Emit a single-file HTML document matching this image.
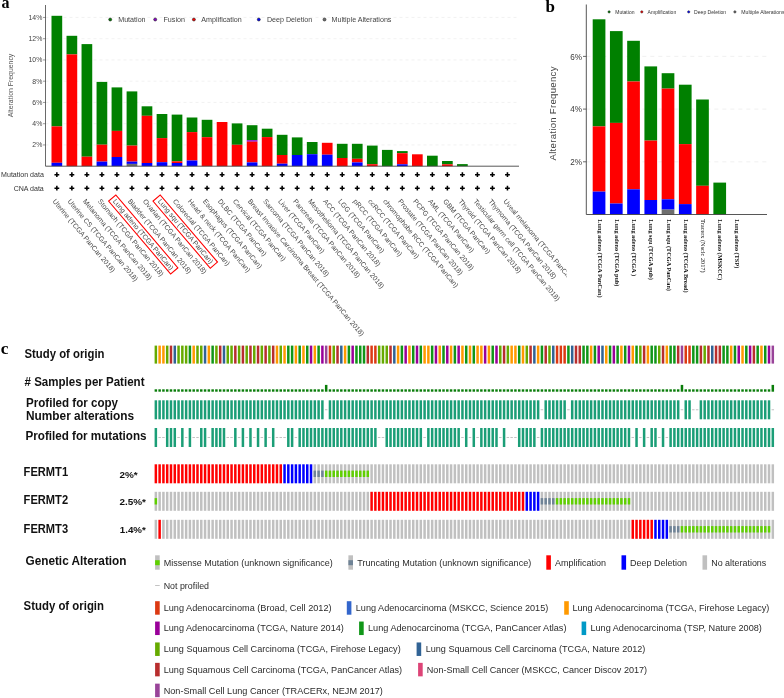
<!DOCTYPE html>
<html><head><meta charset="utf-8"><title>FERMT alteration figure</title>
<style>
html,body{margin:0;padding:0;background:#fff}
svg{display:block}
text{font-family:"Liberation Sans",Arial,sans-serif}
.s{font-family:"Liberation Serif","Times New Roman",serif}
</style></head><body>
<svg width="784" height="698" viewBox="0 0 784 698">
<rect width="784" height="698" fill="#fff"/>
<g id="panel-a">
<text class="s" x="1.6" y="8" font-size="16" font-weight="bold" fill="#000">a</text>
<line x1="45.5" x2="519" y1="144.95" y2="144.95" stroke="#efefef" stroke-width="0.8" stroke-dasharray="3 3"/>
<line x1="43.0" x2="45.5" y1="144.95" y2="144.95" stroke="#555" stroke-width="0.6"/>
<text x="42.3" y="147.35" font-size="6.9" text-anchor="end" fill="#444">2%</text>
<line x1="45.5" x2="519" y1="123.70" y2="123.70" stroke="#efefef" stroke-width="0.8" stroke-dasharray="3 3"/>
<line x1="43.0" x2="45.5" y1="123.70" y2="123.70" stroke="#555" stroke-width="0.6"/>
<text x="42.3" y="126.10" font-size="6.9" text-anchor="end" fill="#444">4%</text>
<line x1="45.5" x2="519" y1="102.45" y2="102.45" stroke="#efefef" stroke-width="0.8" stroke-dasharray="3 3"/>
<line x1="43.0" x2="45.5" y1="102.45" y2="102.45" stroke="#555" stroke-width="0.6"/>
<text x="42.3" y="104.85" font-size="6.9" text-anchor="end" fill="#444">6%</text>
<line x1="45.5" x2="519" y1="81.20" y2="81.20" stroke="#efefef" stroke-width="0.8" stroke-dasharray="3 3"/>
<line x1="43.0" x2="45.5" y1="81.20" y2="81.20" stroke="#555" stroke-width="0.6"/>
<text x="42.3" y="83.60" font-size="6.9" text-anchor="end" fill="#444">8%</text>
<line x1="45.5" x2="519" y1="59.95" y2="59.95" stroke="#efefef" stroke-width="0.8" stroke-dasharray="3 3"/>
<line x1="43.0" x2="45.5" y1="59.95" y2="59.95" stroke="#555" stroke-width="0.6"/>
<text x="42.3" y="62.35" font-size="6.9" text-anchor="end" fill="#444">10%</text>
<line x1="45.5" x2="519" y1="38.70" y2="38.70" stroke="#efefef" stroke-width="0.8" stroke-dasharray="3 3"/>
<line x1="43.0" x2="45.5" y1="38.70" y2="38.70" stroke="#555" stroke-width="0.6"/>
<text x="42.3" y="41.10" font-size="6.9" text-anchor="end" fill="#444">12%</text>
<line x1="45.5" x2="519" y1="17.45" y2="17.45" stroke="#efefef" stroke-width="0.8" stroke-dasharray="3 3"/>
<line x1="43.0" x2="45.5" y1="17.45" y2="17.45" stroke="#555" stroke-width="0.6"/>
<text x="42.3" y="19.85" font-size="6.9" text-anchor="end" fill="#444">14%</text>
<rect x="51.50" y="15.80" width="10.7" height="110.60" fill="#008000"/>
<rect x="51.50" y="126.40" width="10.7" height="36.40" fill="#ff0000"/>
<rect x="51.50" y="162.80" width="10.7" height="3.40" fill="#0000ff"/>
<rect x="66.52" y="35.80" width="10.7" height="18.60" fill="#008000"/>
<rect x="66.52" y="54.40" width="10.7" height="111.80" fill="#ff0000"/>
<rect x="81.54" y="44.10" width="10.7" height="112.60" fill="#008000"/>
<rect x="81.54" y="156.70" width="10.7" height="9.50" fill="#ff0000"/>
<rect x="96.56" y="81.90" width="10.7" height="62.80" fill="#008000"/>
<rect x="96.56" y="144.70" width="10.7" height="16.90" fill="#ff0000"/>
<rect x="96.56" y="161.60" width="10.7" height="4.60" fill="#0000ff"/>
<rect x="111.58" y="87.40" width="10.7" height="43.50" fill="#008000"/>
<rect x="111.58" y="130.90" width="10.7" height="26.10" fill="#ff0000"/>
<rect x="111.58" y="157.00" width="10.7" height="9.20" fill="#0000ff"/>
<rect x="126.60" y="91.40" width="10.7" height="54.20" fill="#008000"/>
<rect x="126.60" y="145.60" width="10.7" height="16.00" fill="#ff0000"/>
<rect x="126.60" y="161.60" width="10.7" height="2.30" fill="#0000ff"/>
<rect x="126.60" y="163.90" width="10.7" height="2.30" fill="#6e6e6e"/>
<rect x="141.62" y="106.30" width="10.7" height="9.50" fill="#008000"/>
<rect x="141.62" y="115.80" width="10.7" height="47.20" fill="#ff0000"/>
<rect x="141.62" y="163.00" width="10.7" height="3.20" fill="#0000ff"/>
<rect x="156.64" y="114.00" width="10.7" height="24.10" fill="#008000"/>
<rect x="156.64" y="138.10" width="10.7" height="24.10" fill="#ff0000"/>
<rect x="156.64" y="162.20" width="10.7" height="4.00" fill="#0000ff"/>
<rect x="171.66" y="114.60" width="10.7" height="46.70" fill="#008000"/>
<rect x="171.66" y="161.30" width="10.7" height="1.70" fill="#ff0000"/>
<rect x="171.66" y="163.00" width="10.7" height="3.20" fill="#0000ff"/>
<rect x="186.68" y="117.50" width="10.7" height="14.60" fill="#008000"/>
<rect x="186.68" y="132.10" width="10.7" height="28.40" fill="#ff0000"/>
<rect x="186.68" y="160.50" width="10.7" height="5.70" fill="#0000ff"/>
<rect x="201.70" y="119.80" width="10.7" height="17.40" fill="#008000"/>
<rect x="201.70" y="137.20" width="10.7" height="29.00" fill="#ff0000"/>
<rect x="216.72" y="122.00" width="10.7" height="44.20" fill="#ff0000"/>
<rect x="231.74" y="123.40" width="10.7" height="21.40" fill="#008000"/>
<rect x="231.74" y="144.80" width="10.7" height="21.40" fill="#ff0000"/>
<rect x="246.76" y="125.20" width="10.7" height="15.00" fill="#008000"/>
<rect x="246.76" y="140.20" width="10.7" height="1.50" fill="#8b00c9"/>
<rect x="246.76" y="141.70" width="10.7" height="20.70" fill="#ff0000"/>
<rect x="246.76" y="162.40" width="10.7" height="3.80" fill="#0000ff"/>
<rect x="261.78" y="128.70" width="10.7" height="8.40" fill="#008000"/>
<rect x="261.78" y="137.10" width="10.7" height="29.10" fill="#ff0000"/>
<rect x="276.80" y="134.80" width="10.7" height="20.20" fill="#008000"/>
<rect x="276.80" y="155.00" width="10.7" height="8.70" fill="#ff0000"/>
<rect x="276.80" y="163.70" width="10.7" height="2.50" fill="#0000ff"/>
<rect x="291.82" y="137.40" width="10.7" height="17.60" fill="#008000"/>
<rect x="291.82" y="155.00" width="10.7" height="11.20" fill="#0000ff"/>
<rect x="306.84" y="142.00" width="10.7" height="12.20" fill="#008000"/>
<rect x="306.84" y="154.20" width="10.7" height="12.00" fill="#0000ff"/>
<rect x="321.86" y="142.80" width="10.7" height="11.90" fill="#ff0000"/>
<rect x="321.86" y="154.70" width="10.7" height="11.50" fill="#0000ff"/>
<rect x="336.88" y="143.80" width="10.7" height="14.20" fill="#008000"/>
<rect x="336.88" y="158.00" width="10.7" height="8.20" fill="#ff0000"/>
<rect x="351.90" y="143.80" width="10.7" height="15.00" fill="#008000"/>
<rect x="351.90" y="158.80" width="10.7" height="3.60" fill="#ff0000"/>
<rect x="351.90" y="162.40" width="10.7" height="3.80" fill="#0000ff"/>
<rect x="366.92" y="145.60" width="10.7" height="18.60" fill="#008000"/>
<rect x="366.92" y="164.20" width="10.7" height="2.00" fill="#ff0000"/>
<rect x="381.94" y="149.90" width="10.7" height="16.30" fill="#008000"/>
<rect x="396.96" y="151.10" width="10.7" height="2.10" fill="#008000"/>
<rect x="396.96" y="153.20" width="10.7" height="11.10" fill="#ff0000"/>
<rect x="396.96" y="164.30" width="10.7" height="1.90" fill="#0000ff"/>
<rect x="411.98" y="154.30" width="10.7" height="11.90" fill="#ff0000"/>
<rect x="427.00" y="155.70" width="10.7" height="10.50" fill="#008000"/>
<rect x="442.02" y="161.00" width="10.7" height="3.30" fill="#008000"/>
<rect x="442.02" y="164.30" width="10.7" height="1.90" fill="#ff0000"/>
<rect x="457.04" y="164.10" width="10.7" height="2.10" fill="#008000"/>
<line x1="45.5" x2="45.5" y1="5" y2="166.2" stroke="#444" stroke-width="0.8"/>
<line x1="45.5" x2="519" y1="166.2" y2="166.2" stroke="#444" stroke-width="0.9"/>
<text transform="translate(13.2,85.5) rotate(-90)" font-size="6.9" text-anchor="middle" fill="#555">Alteration Frequency</text>
<circle cx="110.2" cy="19.5" r="1.5" fill="#008000" stroke="#222" stroke-width="0.6"/>
<text x="118.2" y="22" font-size="7.15" fill="#444">Mutation</text>
<circle cx="155.2" cy="19.5" r="1.5" fill="#8b00c9" stroke="#222" stroke-width="0.6"/>
<text x="163.5" y="22" font-size="7.15" fill="#444">Fusion</text>
<circle cx="193.9" cy="19.5" r="1.5" fill="#ff0000" stroke="#222" stroke-width="0.6"/>
<text x="201.3" y="22" font-size="7.15" fill="#444">Amplification</text>
<circle cx="258.8" cy="19.5" r="1.5" fill="#0000ff" stroke="#222" stroke-width="0.6"/>
<text x="266.9" y="22" font-size="7.15" fill="#444">Deep Deletion</text>
<circle cx="324.5" cy="19.5" r="1.5" fill="#6e6e6e" stroke="#222" stroke-width="0.6"/>
<text x="331.5" y="22" font-size="7.15" fill="#444">Multiple Alterations</text>
<text x="43.8" y="177.2" font-size="7.05" text-anchor="end" fill="#333">Mutation data</text>
<text x="43.8" y="190.7" font-size="7.05" text-anchor="end" fill="#333">CNA data</text>
<path d="M54.45 174.7H59.25M56.85 172.29999999999998V177.1" stroke="#000" stroke-width="1.55" fill="none"/>
<path d="M54.45 188.2H59.25M56.85 185.79999999999998V190.6" stroke="#000" stroke-width="1.55" fill="none"/>
<path d="M69.47 174.7H74.27M71.87 172.29999999999998V177.1" stroke="#000" stroke-width="1.55" fill="none"/>
<path d="M69.47 188.2H74.27M71.87 185.79999999999998V190.6" stroke="#000" stroke-width="1.55" fill="none"/>
<path d="M84.49 174.7H89.29M86.89 172.29999999999998V177.1" stroke="#000" stroke-width="1.55" fill="none"/>
<path d="M84.49 188.2H89.29M86.89 185.79999999999998V190.6" stroke="#000" stroke-width="1.55" fill="none"/>
<path d="M99.51 174.7H104.31M101.91 172.29999999999998V177.1" stroke="#000" stroke-width="1.55" fill="none"/>
<path d="M99.51 188.2H104.31M101.91 185.79999999999998V190.6" stroke="#000" stroke-width="1.55" fill="none"/>
<path d="M114.53 174.7H119.33M116.93 172.29999999999998V177.1" stroke="#000" stroke-width="1.55" fill="none"/>
<path d="M114.53 188.2H119.33M116.93 185.79999999999998V190.6" stroke="#000" stroke-width="1.55" fill="none"/>
<path d="M129.55 174.7H134.35M131.95 172.29999999999998V177.1" stroke="#000" stroke-width="1.55" fill="none"/>
<path d="M129.55 188.2H134.35M131.95 185.79999999999998V190.6" stroke="#000" stroke-width="1.55" fill="none"/>
<path d="M144.57 174.7H149.37M146.97 172.29999999999998V177.1" stroke="#000" stroke-width="1.55" fill="none"/>
<path d="M144.57 188.2H149.37M146.97 185.79999999999998V190.6" stroke="#000" stroke-width="1.55" fill="none"/>
<path d="M159.59 174.7H164.39M161.99 172.29999999999998V177.1" stroke="#000" stroke-width="1.55" fill="none"/>
<path d="M159.59 188.2H164.39M161.99 185.79999999999998V190.6" stroke="#000" stroke-width="1.55" fill="none"/>
<path d="M174.61 174.7H179.41M177.01 172.29999999999998V177.1" stroke="#000" stroke-width="1.55" fill="none"/>
<path d="M174.61 188.2H179.41M177.01 185.79999999999998V190.6" stroke="#000" stroke-width="1.55" fill="none"/>
<path d="M189.63 174.7H194.43M192.03 172.29999999999998V177.1" stroke="#000" stroke-width="1.55" fill="none"/>
<path d="M189.63 188.2H194.43M192.03 185.79999999999998V190.6" stroke="#000" stroke-width="1.55" fill="none"/>
<path d="M204.65 174.7H209.45M207.05 172.29999999999998V177.1" stroke="#000" stroke-width="1.55" fill="none"/>
<path d="M204.65 188.2H209.45M207.05 185.79999999999998V190.6" stroke="#000" stroke-width="1.55" fill="none"/>
<path d="M219.67 174.7H224.47M222.07 172.29999999999998V177.1" stroke="#000" stroke-width="1.55" fill="none"/>
<path d="M219.67 188.2H224.47M222.07 185.79999999999998V190.6" stroke="#000" stroke-width="1.55" fill="none"/>
<path d="M234.69 174.7H239.49M237.09 172.29999999999998V177.1" stroke="#000" stroke-width="1.55" fill="none"/>
<path d="M234.69 188.2H239.49M237.09 185.79999999999998V190.6" stroke="#000" stroke-width="1.55" fill="none"/>
<path d="M249.71 174.7H254.51M252.11 172.29999999999998V177.1" stroke="#000" stroke-width="1.55" fill="none"/>
<path d="M249.71 188.2H254.51M252.11 185.79999999999998V190.6" stroke="#000" stroke-width="1.55" fill="none"/>
<path d="M264.73 174.7H269.53M267.13 172.29999999999998V177.1" stroke="#000" stroke-width="1.55" fill="none"/>
<path d="M264.73 188.2H269.53M267.13 185.79999999999998V190.6" stroke="#000" stroke-width="1.55" fill="none"/>
<path d="M279.75 174.7H284.55M282.15 172.29999999999998V177.1" stroke="#000" stroke-width="1.55" fill="none"/>
<path d="M279.75 188.2H284.55M282.15 185.79999999999998V190.6" stroke="#000" stroke-width="1.55" fill="none"/>
<path d="M294.77 174.7H299.57M297.17 172.29999999999998V177.1" stroke="#000" stroke-width="1.55" fill="none"/>
<path d="M294.77 188.2H299.57M297.17 185.79999999999998V190.6" stroke="#000" stroke-width="1.55" fill="none"/>
<path d="M309.79 174.7H314.59M312.19 172.29999999999998V177.1" stroke="#000" stroke-width="1.55" fill="none"/>
<path d="M309.79 188.2H314.59M312.19 185.79999999999998V190.6" stroke="#000" stroke-width="1.55" fill="none"/>
<path d="M324.81 174.7H329.61M327.21 172.29999999999998V177.1" stroke="#000" stroke-width="1.55" fill="none"/>
<path d="M324.81 188.2H329.61M327.21 185.79999999999998V190.6" stroke="#000" stroke-width="1.55" fill="none"/>
<path d="M339.83 174.7H344.63M342.23 172.29999999999998V177.1" stroke="#000" stroke-width="1.55" fill="none"/>
<path d="M339.83 188.2H344.63M342.23 185.79999999999998V190.6" stroke="#000" stroke-width="1.55" fill="none"/>
<path d="M354.85 174.7H359.65M357.25 172.29999999999998V177.1" stroke="#000" stroke-width="1.55" fill="none"/>
<path d="M354.85 188.2H359.65M357.25 185.79999999999998V190.6" stroke="#000" stroke-width="1.55" fill="none"/>
<path d="M369.87 174.7H374.67M372.27 172.29999999999998V177.1" stroke="#000" stroke-width="1.55" fill="none"/>
<path d="M369.87 188.2H374.67M372.27 185.79999999999998V190.6" stroke="#000" stroke-width="1.55" fill="none"/>
<path d="M384.89 174.7H389.69M387.29 172.29999999999998V177.1" stroke="#000" stroke-width="1.55" fill="none"/>
<path d="M384.89 188.2H389.69M387.29 185.79999999999998V190.6" stroke="#000" stroke-width="1.55" fill="none"/>
<path d="M399.91 174.7H404.71M402.31 172.29999999999998V177.1" stroke="#000" stroke-width="1.55" fill="none"/>
<path d="M399.91 188.2H404.71M402.31 185.79999999999998V190.6" stroke="#000" stroke-width="1.55" fill="none"/>
<path d="M414.93 174.7H419.73M417.33 172.29999999999998V177.1" stroke="#000" stroke-width="1.55" fill="none"/>
<path d="M414.93 188.2H419.73M417.33 185.79999999999998V190.6" stroke="#000" stroke-width="1.55" fill="none"/>
<path d="M429.95 174.7H434.75M432.35 172.29999999999998V177.1" stroke="#000" stroke-width="1.55" fill="none"/>
<path d="M429.95 188.2H434.75M432.35 185.79999999999998V190.6" stroke="#000" stroke-width="1.55" fill="none"/>
<path d="M444.97 174.7H449.77M447.37 172.29999999999998V177.1" stroke="#000" stroke-width="1.55" fill="none"/>
<path d="M444.97 188.2H449.77M447.37 185.79999999999998V190.6" stroke="#000" stroke-width="1.55" fill="none"/>
<path d="M459.99 174.7H464.79M462.39 172.29999999999998V177.1" stroke="#000" stroke-width="1.55" fill="none"/>
<path d="M459.99 188.2H464.79M462.39 185.79999999999998V190.6" stroke="#000" stroke-width="1.55" fill="none"/>
<path d="M475.01 174.7H479.81M477.41 172.29999999999998V177.1" stroke="#000" stroke-width="1.55" fill="none"/>
<path d="M475.01 188.2H479.81M477.41 185.79999999999998V190.6" stroke="#000" stroke-width="1.55" fill="none"/>
<path d="M490.03 174.7H494.83M492.43 172.29999999999998V177.1" stroke="#000" stroke-width="1.55" fill="none"/>
<path d="M490.03 188.2H494.83M492.43 185.79999999999998V190.6" stroke="#000" stroke-width="1.55" fill="none"/>
<path d="M505.05 174.7H509.85M507.45 172.29999999999998V177.1" stroke="#000" stroke-width="1.55" fill="none"/>
<path d="M505.05 188.2H509.85M507.45 185.79999999999998V190.6" stroke="#000" stroke-width="1.55" fill="none"/>
<clipPath id="clipa"><rect x="0" y="190" width="566.5" height="160"/></clipPath>
<g clip-path="url(#clipa)">
<text transform="translate(52.35,201.6) rotate(50)" font-size="7.0" fill="#4a4a4a">Uterine (TCGA PanCan 2018)</text>
<text transform="translate(67.37,201.6) rotate(50)" font-size="7.0" fill="#4a4a4a">Uterine CS (TCGA PanCan 2018)</text>
<text transform="translate(82.39,201.6) rotate(50)" font-size="7.0" fill="#4a4a4a">Melanoma (TCGA PanCan 2018)</text>
<text transform="translate(97.41,201.6) rotate(50)" font-size="7.0" fill="#4a4a4a">Stomach (TCGA PanCan 2018)</text>
<text transform="translate(112.43,201.6) rotate(50)" font-size="7.0" fill="#4a4a4a">Lung adeno (TCGA PanCan)</text>
<rect transform="translate(112.43,201.6) rotate(49.6)" x="-2.85" y="-6.9" width="95.7" height="9.5" fill="none" stroke="#ff0000" stroke-width="1.1"/>
<text transform="translate(127.45,201.6) rotate(50)" font-size="7.0" fill="#4a4a4a">Bladder (TCGA PanCan 2018)</text>
<text transform="translate(142.47,201.6) rotate(50)" font-size="7.0" fill="#4a4a4a">Ovarian (TCGA PanCan 2018)</text>
<text transform="translate(157.49,201.6) rotate(50)" font-size="7.0" fill="#4a4a4a">Lung squ (TCGA PanCan)</text>
<rect transform="translate(157.49,201.6) rotate(49.5)" x="-3.3" y="-6.4" width="88.2" height="9.5" fill="none" stroke="#ff0000" stroke-width="1.1"/>
<text transform="translate(172.51,201.6) rotate(50)" font-size="7.0" fill="#4a4a4a">Colorectal (TCGA PanCan)</text>
<text transform="translate(187.53,201.6) rotate(50)" font-size="7.0" fill="#4a4a4a">Head &amp; neck (TCGA PanCan)</text>
<text transform="translate(202.55,201.6) rotate(50)" font-size="7.0" fill="#4a4a4a">Esophagus (TCGA PanCan)</text>
<text transform="translate(217.57,201.6) rotate(50)" font-size="7.0" fill="#4a4a4a">DLBC (TCGA PanCan)</text>
<text transform="translate(232.59,201.6) rotate(50)" font-size="7.0" fill="#4a4a4a">Cervical (TCGA PanCan)</text>
<text transform="translate(247.61,201.6) rotate(50)" font-size="7.0" fill="#4a4a4a">Breast Invasive Carcinoma Breast (TCGA PanCan 2018)</text>
<text transform="translate(262.63,201.6) rotate(50)" font-size="7.0" fill="#4a4a4a">Sarcoma (TCGA PanCan 2018)</text>
<text transform="translate(277.65,201.6) rotate(50)" font-size="7.0" fill="#4a4a4a">Liver (TCGA PanCan)</text>
<text transform="translate(292.67,201.6) rotate(50)" font-size="7.0" fill="#4a4a4a">Pancreas (TCGA PanCan 2018)</text>
<text transform="translate(307.69,201.6) rotate(50)" font-size="7.0" fill="#4a4a4a">Mesothelioma (TCGA PanCan 2018)</text>
<text transform="translate(322.71,201.6) rotate(50)" font-size="7.0" fill="#4a4a4a">ACC (TCGA PanCan 2018)</text>
<text transform="translate(337.73,201.6) rotate(50)" font-size="7.0" fill="#4a4a4a">LGG (TCGA PanCan)</text>
<text transform="translate(352.75,201.6) rotate(50)" font-size="7.0" fill="#4a4a4a">pRCC (TCGA PanCan)</text>
<text transform="translate(367.77,201.6) rotate(50)" font-size="7.0" fill="#4a4a4a">ccRCC (TCGA PanCan)</text>
<text transform="translate(382.79,201.6) rotate(50)" font-size="7.0" fill="#4a4a4a">chromophobe RCC (TCGA PanCan)</text>
<text transform="translate(397.81,201.6) rotate(50)" font-size="7.0" fill="#4a4a4a">Prostate (TCGA PanCan 2018)</text>
<text transform="translate(412.83,201.6) rotate(50)" font-size="7.0" fill="#4a4a4a">PCPG (TCGA PanCan 2018)</text>
<text transform="translate(427.85,201.6) rotate(50)" font-size="7.0" fill="#4a4a4a">AML (TCGA PanCan)</text>
<text transform="translate(442.87,201.6) rotate(50)" font-size="7.0" fill="#4a4a4a">GBM (TCGA PanCan)</text>
<text transform="translate(457.89,201.6) rotate(50)" font-size="7.0" fill="#4a4a4a">Thyroid (TCGA PanCan 2018)</text>
<text transform="translate(472.91,201.6) rotate(50)" font-size="7.0" fill="#4a4a4a">Testicular germ cell (TCGA PanCan 2018)</text>
<text transform="translate(487.93,201.6) rotate(50)" font-size="7.0" fill="#4a4a4a">Thymoma (TCGA PanCan 2018)</text>
<text transform="translate(502.95,201.6) rotate(50)" font-size="7.0" fill="#4a4a4a">Uveal melanoma (TCGA PanCan 2018)</text>
</g>
</g>
<g id="panel-b">
<text class="s" x="545.4" y="12.3" font-size="17" font-weight="bold" fill="#000">b</text>
<line x1="586.3" x2="767" y1="161.80" y2="161.80" stroke="#ececec" stroke-width="0.8" stroke-dasharray="4 4"/>
<text x="570.2" y="165.00" font-size="9" fill="#3a3a3a" textLength="11.8" lengthAdjust="spacingAndGlyphs">2%</text>
<line x1="583" x2="586.3" y1="161.80" y2="161.80" stroke="#444" stroke-width="0.8"/>
<line x1="586.3" x2="767" y1="109.10" y2="109.10" stroke="#ececec" stroke-width="0.8" stroke-dasharray="4 4"/>
<text x="570.2" y="112.30" font-size="9" fill="#3a3a3a" textLength="11.8" lengthAdjust="spacingAndGlyphs">4%</text>
<line x1="583" x2="586.3" y1="109.10" y2="109.10" stroke="#444" stroke-width="0.8"/>
<line x1="586.3" x2="767" y1="56.40" y2="56.40" stroke="#ececec" stroke-width="0.8" stroke-dasharray="4 4"/>
<text x="570.2" y="59.60" font-size="9" fill="#3a3a3a" textLength="11.8" lengthAdjust="spacingAndGlyphs">6%</text>
<line x1="583" x2="586.3" y1="56.40" y2="56.40" stroke="#444" stroke-width="0.8"/>
<rect x="592.70" y="19.30" width="12.7" height="107.10" fill="#008000"/>
<rect x="592.70" y="126.40" width="12.7" height="65.20" fill="#ff0000"/>
<rect x="592.70" y="191.60" width="12.7" height="22.90" fill="#0000ff"/>
<rect x="609.94" y="31.10" width="12.7" height="91.80" fill="#008000"/>
<rect x="609.94" y="122.90" width="12.7" height="80.60" fill="#ff0000"/>
<rect x="609.94" y="203.50" width="12.7" height="11.00" fill="#0000ff"/>
<rect x="627.18" y="40.80" width="12.7" height="40.70" fill="#008000"/>
<rect x="627.18" y="81.50" width="12.7" height="107.80" fill="#ff0000"/>
<rect x="627.18" y="189.30" width="12.7" height="25.20" fill="#0000ff"/>
<rect x="644.42" y="66.40" width="12.7" height="74.20" fill="#008000"/>
<rect x="644.42" y="140.60" width="12.7" height="59.40" fill="#ff0000"/>
<rect x="644.42" y="200.00" width="12.7" height="14.50" fill="#0000ff"/>
<rect x="661.66" y="73.20" width="12.7" height="15.40" fill="#008000"/>
<rect x="661.66" y="88.60" width="12.7" height="110.70" fill="#ff0000"/>
<rect x="661.66" y="199.30" width="12.7" height="10.30" fill="#0000ff"/>
<rect x="661.66" y="209.60" width="12.7" height="4.90" fill="#6e6e6e"/>
<rect x="678.90" y="84.70" width="12.7" height="59.40" fill="#008000"/>
<rect x="678.90" y="144.10" width="12.7" height="60.00" fill="#ff0000"/>
<rect x="678.90" y="204.10" width="12.7" height="10.40" fill="#0000ff"/>
<rect x="696.14" y="99.50" width="12.7" height="86.30" fill="#008000"/>
<rect x="696.14" y="185.80" width="12.7" height="28.70" fill="#ff0000"/>
<rect x="713.38" y="182.60" width="12.7" height="31.90" fill="#008000"/>
<line x1="586.3" x2="586.3" y1="4.5" y2="214.5" stroke="#444" stroke-width="0.9"/>
<line x1="586.3" x2="767" y1="214.5" y2="214.5" stroke="#444" stroke-width="0.9"/>
<text transform="translate(555.6,113.5) rotate(-90)" font-size="9.6" text-anchor="middle" fill="#444" textLength="94" lengthAdjust="spacing">Alteration Frequency</text>
<circle cx="609.1" cy="11.9" r="1.15" fill="#008000" stroke="#222" stroke-width="0.5"/>
<text x="615.2" y="13.7" font-size="5.2" fill="#333" textLength="19.3" lengthAdjust="spacingAndGlyphs">Mutation</text>
<circle cx="641.8" cy="11.9" r="1.15" fill="#ff0000" stroke="#222" stroke-width="0.5"/>
<text x="647.6" y="13.7" font-size="5.2" fill="#333" textLength="28.6" lengthAdjust="spacingAndGlyphs">Amplification</text>
<circle cx="688.7" cy="11.9" r="1.15" fill="#0000ff" stroke="#222" stroke-width="0.5"/>
<text x="694.1" y="13.7" font-size="5.2" fill="#333" textLength="32.1" lengthAdjust="spacingAndGlyphs">Deep Deletion</text>
<circle cx="734.9" cy="11.9" r="1.15" fill="#6e6e6e" stroke="#222" stroke-width="0.5"/>
<text x="741.3" y="13.7" font-size="5.2" fill="#333" textLength="43.2" lengthAdjust="spacingAndGlyphs">Multiple Alterations</text>
<text class="s" transform="translate(597.55,219.3) rotate(90) scale(0.905,1)" font-size="6.9" font-weight="bold" fill="#111">Lung adeno (TCGA PanCan)</text>
<text class="s" transform="translate(614.79,219.3) rotate(90) scale(0.905,1)" font-size="6.9" font-weight="bold" fill="#111">Lung adeno (TCGA pub)</text>
<text class="s" transform="translate(632.03,219.3) rotate(90) scale(0.905,1)" font-size="6.9" font-weight="bold" fill="#111">Lung adeno (TCGA )</text>
<text class="s" transform="translate(649.27,219.3) rotate(90) scale(0.905,1)" font-size="6.9" font-weight="bold" fill="#111">Lung squ (TCGA pub)</text>
<text class="s" transform="translate(666.51,219.3) rotate(90) scale(0.905,1)" font-size="6.9" font-weight="bold" fill="#111">Lung squ (TCGA PanCan)</text>
<text class="s" transform="translate(683.75,219.3) rotate(90) scale(0.905,1)" font-size="6.9" font-weight="bold" fill="#111">Lung adeno (TCGA Broad)</text>
<text class="s" transform="translate(700.99,219.3) rotate(90) scale(0.905,1)" font-size="6.9" font-weight="normal" fill="#111">Tracerx (Nsclc 2017)</text>
<text class="s" transform="translate(718.23,219.3) rotate(90) scale(0.905,1)" font-size="6.9" font-weight="bold" fill="#111">Lung adeno (MSKCC)</text>
<text class="s" transform="translate(735.47,219.3) rotate(90) scale(0.905,1)" font-size="6.9" font-weight="bold" fill="#111">Lung adeno (TSP)</text>
</g>
<g id="panel-c">
<text class="s" transform="translate(0.8,353.8) scale(1.08,1)" font-size="16" font-weight="bold" fill="#000">c</text>
<rect x="154.60" y="345.6" width="2.5" height="18" fill="#66aa00"/>
<rect x="158.38" y="345.6" width="2.5" height="18" fill="#ff9900"/>
<rect x="162.17" y="345.6" width="2.5" height="18" fill="#ff9900"/>
<rect x="165.95" y="345.6" width="2.5" height="18" fill="#66aa00"/>
<rect x="169.74" y="345.6" width="2.5" height="18" fill="#b82e2e"/>
<rect x="173.53" y="345.6" width="2.5" height="18" fill="#316395"/>
<rect x="177.31" y="345.6" width="2.5" height="18" fill="#66aa00"/>
<rect x="181.09" y="345.6" width="2.5" height="18" fill="#66aa00"/>
<rect x="184.88" y="345.6" width="2.5" height="18" fill="#66aa00"/>
<rect x="188.66" y="345.6" width="2.5" height="18" fill="#109618"/>
<rect x="192.45" y="345.6" width="2.5" height="18" fill="#ff9900"/>
<rect x="196.24" y="345.6" width="2.5" height="18" fill="#66aa00"/>
<rect x="200.02" y="345.6" width="2.5" height="18" fill="#66aa00"/>
<rect x="203.81" y="345.6" width="2.5" height="18" fill="#316395"/>
<rect x="207.59" y="345.6" width="2.5" height="18" fill="#ff9900"/>
<rect x="211.38" y="345.6" width="2.5" height="18" fill="#109618"/>
<rect x="215.16" y="345.6" width="2.5" height="18" fill="#66aa00"/>
<rect x="218.94" y="345.6" width="2.5" height="18" fill="#b82e2e"/>
<rect x="222.73" y="345.6" width="2.5" height="18" fill="#316395"/>
<rect x="226.51" y="345.6" width="2.5" height="18" fill="#66aa00"/>
<rect x="230.30" y="345.6" width="2.5" height="18" fill="#66aa00"/>
<rect x="234.08" y="345.6" width="2.5" height="18" fill="#b82e2e"/>
<rect x="237.87" y="345.6" width="2.5" height="18" fill="#66aa00"/>
<rect x="241.66" y="345.6" width="2.5" height="18" fill="#b82e2e"/>
<rect x="245.44" y="345.6" width="2.5" height="18" fill="#66aa00"/>
<rect x="249.22" y="345.6" width="2.5" height="18" fill="#b82e2e"/>
<rect x="253.01" y="345.6" width="2.5" height="18" fill="#66aa00"/>
<rect x="256.80" y="345.6" width="2.5" height="18" fill="#b82e2e"/>
<rect x="260.58" y="345.6" width="2.5" height="18" fill="#66aa00"/>
<rect x="264.37" y="345.6" width="2.5" height="18" fill="#b82e2e"/>
<rect x="268.15" y="345.6" width="2.5" height="18" fill="#66aa00"/>
<rect x="271.94" y="345.6" width="2.5" height="18" fill="#b82e2e"/>
<rect x="275.72" y="345.6" width="2.5" height="18" fill="#ff9900"/>
<rect x="279.50" y="345.6" width="2.5" height="18" fill="#66aa00"/>
<rect x="283.29" y="345.6" width="2.5" height="18" fill="#ff9900"/>
<rect x="287.07" y="345.6" width="2.5" height="18" fill="#109618"/>
<rect x="290.86" y="345.6" width="2.5" height="18" fill="#109618"/>
<rect x="294.64" y="345.6" width="2.5" height="18" fill="#ff9900"/>
<rect x="298.43" y="345.6" width="2.5" height="18" fill="#109618"/>
<rect x="302.22" y="345.6" width="2.5" height="18" fill="#ff9900"/>
<rect x="306.00" y="345.6" width="2.5" height="18" fill="#109618"/>
<rect x="309.78" y="345.6" width="2.5" height="18" fill="#990099"/>
<rect x="313.57" y="345.6" width="2.5" height="18" fill="#ff9900"/>
<rect x="317.36" y="345.6" width="2.5" height="18" fill="#109618"/>
<rect x="321.14" y="345.6" width="2.5" height="18" fill="#990099"/>
<rect x="324.93" y="345.6" width="2.5" height="18" fill="#994499"/>
<rect x="328.71" y="345.6" width="2.5" height="18" fill="#dc3912"/>
<rect x="332.50" y="345.6" width="2.5" height="18" fill="#66aa00"/>
<rect x="336.28" y="345.6" width="2.5" height="18" fill="#b82e2e"/>
<rect x="340.06" y="345.6" width="2.5" height="18" fill="#316395"/>
<rect x="343.85" y="345.6" width="2.5" height="18" fill="#ff9900"/>
<rect x="347.63" y="345.6" width="2.5" height="18" fill="#109618"/>
<rect x="351.42" y="345.6" width="2.5" height="18" fill="#990099"/>
<rect x="355.21" y="345.6" width="2.5" height="18" fill="#109618"/>
<rect x="358.99" y="345.6" width="2.5" height="18" fill="#109618"/>
<rect x="362.77" y="345.6" width="2.5" height="18" fill="#109618"/>
<rect x="366.56" y="345.6" width="2.5" height="18" fill="#b82e2e"/>
<rect x="370.35" y="345.6" width="2.5" height="18" fill="#dc3912"/>
<rect x="374.13" y="345.6" width="2.5" height="18" fill="#dc3912"/>
<rect x="377.91" y="345.6" width="2.5" height="18" fill="#66aa00"/>
<rect x="381.70" y="345.6" width="2.5" height="18" fill="#66aa00"/>
<rect x="385.49" y="345.6" width="2.5" height="18" fill="#66aa00"/>
<rect x="389.27" y="345.6" width="2.5" height="18" fill="#b82e2e"/>
<rect x="393.06" y="345.6" width="2.5" height="18" fill="#316395"/>
<rect x="396.84" y="345.6" width="2.5" height="18" fill="#ff9900"/>
<rect x="400.62" y="345.6" width="2.5" height="18" fill="#109618"/>
<rect x="404.41" y="345.6" width="2.5" height="18" fill="#990099"/>
<rect x="408.19" y="345.6" width="2.5" height="18" fill="#ff9900"/>
<rect x="411.98" y="345.6" width="2.5" height="18" fill="#109618"/>
<rect x="415.76" y="345.6" width="2.5" height="18" fill="#990099"/>
<rect x="419.55" y="345.6" width="2.5" height="18" fill="#109618"/>
<rect x="423.34" y="345.6" width="2.5" height="18" fill="#ff9900"/>
<rect x="427.12" y="345.6" width="2.5" height="18" fill="#ff9900"/>
<rect x="430.90" y="345.6" width="2.5" height="18" fill="#109618"/>
<rect x="434.69" y="345.6" width="2.5" height="18" fill="#990099"/>
<rect x="438.48" y="345.6" width="2.5" height="18" fill="#ff9900"/>
<rect x="442.26" y="345.6" width="2.5" height="18" fill="#109618"/>
<rect x="446.04" y="345.6" width="2.5" height="18" fill="#990099"/>
<rect x="449.83" y="345.6" width="2.5" height="18" fill="#ff9900"/>
<rect x="453.62" y="345.6" width="2.5" height="18" fill="#109618"/>
<rect x="457.40" y="345.6" width="2.5" height="18" fill="#990099"/>
<rect x="461.19" y="345.6" width="2.5" height="18" fill="#ff9900"/>
<rect x="464.97" y="345.6" width="2.5" height="18" fill="#109618"/>
<rect x="468.75" y="345.6" width="2.5" height="18" fill="#ff9900"/>
<rect x="472.54" y="345.6" width="2.5" height="18" fill="#109618"/>
<rect x="476.33" y="345.6" width="2.5" height="18" fill="#ff9900"/>
<rect x="480.11" y="345.6" width="2.5" height="18" fill="#ff9900"/>
<rect x="483.89" y="345.6" width="2.5" height="18" fill="#990099"/>
<rect x="487.68" y="345.6" width="2.5" height="18" fill="#ff9900"/>
<rect x="491.47" y="345.6" width="2.5" height="18" fill="#109618"/>
<rect x="495.25" y="345.6" width="2.5" height="18" fill="#990099"/>
<rect x="499.03" y="345.6" width="2.5" height="18" fill="#66aa00"/>
<rect x="502.82" y="345.6" width="2.5" height="18" fill="#b82e2e"/>
<rect x="506.61" y="345.6" width="2.5" height="18" fill="#66aa00"/>
<rect x="510.39" y="345.6" width="2.5" height="18" fill="#ff9900"/>
<rect x="514.17" y="345.6" width="2.5" height="18" fill="#ff9900"/>
<rect x="517.96" y="345.6" width="2.5" height="18" fill="#109618"/>
<rect x="521.75" y="345.6" width="2.5" height="18" fill="#ff9900"/>
<rect x="525.53" y="345.6" width="2.5" height="18" fill="#66aa00"/>
<rect x="529.32" y="345.6" width="2.5" height="18" fill="#b82e2e"/>
<rect x="533.10" y="345.6" width="2.5" height="18" fill="#316395"/>
<rect x="536.88" y="345.6" width="2.5" height="18" fill="#ff9900"/>
<rect x="540.67" y="345.6" width="2.5" height="18" fill="#109618"/>
<rect x="544.46" y="345.6" width="2.5" height="18" fill="#b82e2e"/>
<rect x="548.24" y="345.6" width="2.5" height="18" fill="#66aa00"/>
<rect x="552.02" y="345.6" width="2.5" height="18" fill="#316395"/>
<rect x="555.81" y="345.6" width="2.5" height="18" fill="#dc3912"/>
<rect x="559.60" y="345.6" width="2.5" height="18" fill="#dc3912"/>
<rect x="563.38" y="345.6" width="2.5" height="18" fill="#dc3912"/>
<rect x="567.16" y="345.6" width="2.5" height="18" fill="#109618"/>
<rect x="570.95" y="345.6" width="2.5" height="18" fill="#316395"/>
<rect x="574.74" y="345.6" width="2.5" height="18" fill="#b82e2e"/>
<rect x="578.52" y="345.6" width="2.5" height="18" fill="#b82e2e"/>
<rect x="582.31" y="345.6" width="2.5" height="18" fill="#109618"/>
<rect x="586.09" y="345.6" width="2.5" height="18" fill="#109618"/>
<rect x="589.88" y="345.6" width="2.5" height="18" fill="#ff9900"/>
<rect x="593.66" y="345.6" width="2.5" height="18" fill="#109618"/>
<rect x="597.45" y="345.6" width="2.5" height="18" fill="#990099"/>
<rect x="601.23" y="345.6" width="2.5" height="18" fill="#316395"/>
<rect x="605.01" y="345.6" width="2.5" height="18" fill="#ff9900"/>
<rect x="608.80" y="345.6" width="2.5" height="18" fill="#109618"/>
<rect x="612.59" y="345.6" width="2.5" height="18" fill="#990099"/>
<rect x="616.37" y="345.6" width="2.5" height="18" fill="#109618"/>
<rect x="620.15" y="345.6" width="2.5" height="18" fill="#ff9900"/>
<rect x="623.94" y="345.6" width="2.5" height="18" fill="#109618"/>
<rect x="627.73" y="345.6" width="2.5" height="18" fill="#990099"/>
<rect x="631.51" y="345.6" width="2.5" height="18" fill="#ff9900"/>
<rect x="635.29" y="345.6" width="2.5" height="18" fill="#109618"/>
<rect x="639.08" y="345.6" width="2.5" height="18" fill="#66aa00"/>
<rect x="642.87" y="345.6" width="2.5" height="18" fill="#b82e2e"/>
<rect x="646.65" y="345.6" width="2.5" height="18" fill="#ff9900"/>
<rect x="650.44" y="345.6" width="2.5" height="18" fill="#109618"/>
<rect x="654.22" y="345.6" width="2.5" height="18" fill="#109618"/>
<rect x="658.00" y="345.6" width="2.5" height="18" fill="#66aa00"/>
<rect x="661.79" y="345.6" width="2.5" height="18" fill="#b82e2e"/>
<rect x="665.58" y="345.6" width="2.5" height="18" fill="#ff9900"/>
<rect x="669.36" y="345.6" width="2.5" height="18" fill="#109618"/>
<rect x="673.15" y="345.6" width="2.5" height="18" fill="#109618"/>
<rect x="676.93" y="345.6" width="2.5" height="18" fill="#b82e2e"/>
<rect x="680.72" y="345.6" width="2.5" height="18" fill="#994499"/>
<rect x="684.50" y="345.6" width="2.5" height="18" fill="#dc3912"/>
<rect x="688.29" y="345.6" width="2.5" height="18" fill="#dc3912"/>
<rect x="692.07" y="345.6" width="2.5" height="18" fill="#109618"/>
<rect x="695.86" y="345.6" width="2.5" height="18" fill="#109618"/>
<rect x="699.64" y="345.6" width="2.5" height="18" fill="#b82e2e"/>
<rect x="703.43" y="345.6" width="2.5" height="18" fill="#66aa00"/>
<rect x="707.21" y="345.6" width="2.5" height="18" fill="#b82e2e"/>
<rect x="711.00" y="345.6" width="2.5" height="18" fill="#316395"/>
<rect x="714.78" y="345.6" width="2.5" height="18" fill="#b82e2e"/>
<rect x="718.57" y="345.6" width="2.5" height="18" fill="#b82e2e"/>
<rect x="722.35" y="345.6" width="2.5" height="18" fill="#109618"/>
<rect x="726.13" y="345.6" width="2.5" height="18" fill="#109618"/>
<rect x="729.92" y="345.6" width="2.5" height="18" fill="#ff9900"/>
<rect x="733.71" y="345.6" width="2.5" height="18" fill="#109618"/>
<rect x="737.49" y="345.6" width="2.5" height="18" fill="#990099"/>
<rect x="741.28" y="345.6" width="2.5" height="18" fill="#ff9900"/>
<rect x="745.06" y="345.6" width="2.5" height="18" fill="#109618"/>
<rect x="748.85" y="345.6" width="2.5" height="18" fill="#990099"/>
<rect x="752.63" y="345.6" width="2.5" height="18" fill="#b82e2e"/>
<rect x="756.42" y="345.6" width="2.5" height="18" fill="#109618"/>
<rect x="760.20" y="345.6" width="2.5" height="18" fill="#ff9900"/>
<rect x="763.99" y="345.6" width="2.5" height="18" fill="#109618"/>
<rect x="767.77" y="345.6" width="2.5" height="18" fill="#990099"/>
<rect x="771.56" y="345.6" width="2.5" height="18" fill="#994499"/>
<rect x="154.60" y="389.3" width="2.5" height="2.4" fill="#0a7d0a"/>
<rect x="158.38" y="389.3" width="2.5" height="2.4" fill="#0a7d0a"/>
<rect x="162.17" y="389.3" width="2.5" height="2.4" fill="#0a7d0a"/>
<rect x="165.95" y="389.3" width="2.5" height="2.4" fill="#0a7d0a"/>
<rect x="169.74" y="389.3" width="2.5" height="2.4" fill="#0a7d0a"/>
<rect x="173.53" y="389.3" width="2.5" height="2.4" fill="#0a7d0a"/>
<rect x="177.31" y="389.3" width="2.5" height="2.4" fill="#0a7d0a"/>
<rect x="181.09" y="389.3" width="2.5" height="2.4" fill="#0a7d0a"/>
<rect x="184.88" y="389.3" width="2.5" height="2.4" fill="#0a7d0a"/>
<rect x="188.66" y="389.3" width="2.5" height="2.4" fill="#0a7d0a"/>
<rect x="192.45" y="389.3" width="2.5" height="2.4" fill="#0a7d0a"/>
<rect x="196.24" y="389.3" width="2.5" height="2.4" fill="#0a7d0a"/>
<rect x="200.02" y="389.3" width="2.5" height="2.4" fill="#0a7d0a"/>
<rect x="203.81" y="389.3" width="2.5" height="2.4" fill="#0a7d0a"/>
<rect x="207.59" y="389.3" width="2.5" height="2.4" fill="#0a7d0a"/>
<rect x="211.38" y="389.3" width="2.5" height="2.4" fill="#0a7d0a"/>
<rect x="215.16" y="389.3" width="2.5" height="2.4" fill="#0a7d0a"/>
<rect x="218.94" y="389.3" width="2.5" height="2.4" fill="#0a7d0a"/>
<rect x="222.73" y="389.3" width="2.5" height="2.4" fill="#0a7d0a"/>
<rect x="226.51" y="389.3" width="2.5" height="2.4" fill="#0a7d0a"/>
<rect x="230.30" y="389.3" width="2.5" height="2.4" fill="#0a7d0a"/>
<rect x="234.08" y="389.3" width="2.5" height="2.4" fill="#0a7d0a"/>
<rect x="237.87" y="389.3" width="2.5" height="2.4" fill="#0a7d0a"/>
<rect x="241.66" y="389.3" width="2.5" height="2.4" fill="#0a7d0a"/>
<rect x="245.44" y="389.3" width="2.5" height="2.4" fill="#0a7d0a"/>
<rect x="249.22" y="389.3" width="2.5" height="2.4" fill="#0a7d0a"/>
<rect x="253.01" y="389.3" width="2.5" height="2.4" fill="#0a7d0a"/>
<rect x="256.80" y="389.3" width="2.5" height="2.4" fill="#0a7d0a"/>
<rect x="260.58" y="389.3" width="2.5" height="2.4" fill="#0a7d0a"/>
<rect x="264.37" y="389.3" width="2.5" height="2.4" fill="#0a7d0a"/>
<rect x="268.15" y="389.3" width="2.5" height="2.4" fill="#0a7d0a"/>
<rect x="271.94" y="389.3" width="2.5" height="2.4" fill="#0a7d0a"/>
<rect x="275.72" y="389.3" width="2.5" height="2.4" fill="#0a7d0a"/>
<rect x="279.50" y="389.3" width="2.5" height="2.4" fill="#0a7d0a"/>
<rect x="283.29" y="389.3" width="2.5" height="2.4" fill="#0a7d0a"/>
<rect x="287.07" y="389.3" width="2.5" height="2.4" fill="#0a7d0a"/>
<rect x="290.86" y="389.3" width="2.5" height="2.4" fill="#0a7d0a"/>
<rect x="294.64" y="389.3" width="2.5" height="2.4" fill="#0a7d0a"/>
<rect x="298.43" y="389.3" width="2.5" height="2.4" fill="#0a7d0a"/>
<rect x="302.22" y="389.3" width="2.5" height="2.4" fill="#0a7d0a"/>
<rect x="306.00" y="389.3" width="2.5" height="2.4" fill="#0a7d0a"/>
<rect x="309.78" y="389.3" width="2.5" height="2.4" fill="#0a7d0a"/>
<rect x="313.57" y="389.3" width="2.5" height="2.4" fill="#0a7d0a"/>
<rect x="317.36" y="389.3" width="2.5" height="2.4" fill="#0a7d0a"/>
<rect x="321.14" y="389.3" width="2.5" height="2.4" fill="#0a7d0a"/>
<rect x="324.93" y="384.9" width="2.5" height="6.8" fill="#0a7d0a"/>
<rect x="328.71" y="389.3" width="2.5" height="2.4" fill="#0a7d0a"/>
<rect x="332.50" y="389.3" width="2.5" height="2.4" fill="#0a7d0a"/>
<rect x="336.28" y="389.3" width="2.5" height="2.4" fill="#0a7d0a"/>
<rect x="340.06" y="389.3" width="2.5" height="2.4" fill="#0a7d0a"/>
<rect x="343.85" y="389.3" width="2.5" height="2.4" fill="#0a7d0a"/>
<rect x="347.63" y="389.3" width="2.5" height="2.4" fill="#0a7d0a"/>
<rect x="351.42" y="389.3" width="2.5" height="2.4" fill="#0a7d0a"/>
<rect x="355.21" y="389.3" width="2.5" height="2.4" fill="#0a7d0a"/>
<rect x="358.99" y="389.3" width="2.5" height="2.4" fill="#0a7d0a"/>
<rect x="362.77" y="389.3" width="2.5" height="2.4" fill="#0a7d0a"/>
<rect x="366.56" y="389.3" width="2.5" height="2.4" fill="#0a7d0a"/>
<rect x="370.35" y="389.3" width="2.5" height="2.4" fill="#0a7d0a"/>
<rect x="374.13" y="389.3" width="2.5" height="2.4" fill="#0a7d0a"/>
<rect x="377.91" y="389.3" width="2.5" height="2.4" fill="#0a7d0a"/>
<rect x="381.70" y="389.3" width="2.5" height="2.4" fill="#0a7d0a"/>
<rect x="385.49" y="389.3" width="2.5" height="2.4" fill="#0a7d0a"/>
<rect x="389.27" y="389.3" width="2.5" height="2.4" fill="#0a7d0a"/>
<rect x="393.06" y="389.3" width="2.5" height="2.4" fill="#0a7d0a"/>
<rect x="396.84" y="389.3" width="2.5" height="2.4" fill="#0a7d0a"/>
<rect x="400.62" y="389.3" width="2.5" height="2.4" fill="#0a7d0a"/>
<rect x="404.41" y="389.3" width="2.5" height="2.4" fill="#0a7d0a"/>
<rect x="408.19" y="389.3" width="2.5" height="2.4" fill="#0a7d0a"/>
<rect x="411.98" y="389.3" width="2.5" height="2.4" fill="#0a7d0a"/>
<rect x="415.76" y="389.3" width="2.5" height="2.4" fill="#0a7d0a"/>
<rect x="419.55" y="389.3" width="2.5" height="2.4" fill="#0a7d0a"/>
<rect x="423.34" y="389.3" width="2.5" height="2.4" fill="#0a7d0a"/>
<rect x="427.12" y="389.3" width="2.5" height="2.4" fill="#0a7d0a"/>
<rect x="430.90" y="389.3" width="2.5" height="2.4" fill="#0a7d0a"/>
<rect x="434.69" y="389.3" width="2.5" height="2.4" fill="#0a7d0a"/>
<rect x="438.48" y="389.3" width="2.5" height="2.4" fill="#0a7d0a"/>
<rect x="442.26" y="389.3" width="2.5" height="2.4" fill="#0a7d0a"/>
<rect x="446.04" y="389.3" width="2.5" height="2.4" fill="#0a7d0a"/>
<rect x="449.83" y="389.3" width="2.5" height="2.4" fill="#0a7d0a"/>
<rect x="453.62" y="389.3" width="2.5" height="2.4" fill="#0a7d0a"/>
<rect x="457.40" y="389.3" width="2.5" height="2.4" fill="#0a7d0a"/>
<rect x="461.19" y="389.3" width="2.5" height="2.4" fill="#0a7d0a"/>
<rect x="464.97" y="389.3" width="2.5" height="2.4" fill="#0a7d0a"/>
<rect x="468.75" y="389.3" width="2.5" height="2.4" fill="#0a7d0a"/>
<rect x="472.54" y="389.3" width="2.5" height="2.4" fill="#0a7d0a"/>
<rect x="476.33" y="389.3" width="2.5" height="2.4" fill="#0a7d0a"/>
<rect x="480.11" y="389.3" width="2.5" height="2.4" fill="#0a7d0a"/>
<rect x="483.89" y="389.3" width="2.5" height="2.4" fill="#0a7d0a"/>
<rect x="487.68" y="389.3" width="2.5" height="2.4" fill="#0a7d0a"/>
<rect x="491.47" y="389.3" width="2.5" height="2.4" fill="#0a7d0a"/>
<rect x="495.25" y="389.3" width="2.5" height="2.4" fill="#0a7d0a"/>
<rect x="499.03" y="389.3" width="2.5" height="2.4" fill="#0a7d0a"/>
<rect x="502.82" y="389.3" width="2.5" height="2.4" fill="#0a7d0a"/>
<rect x="506.61" y="389.3" width="2.5" height="2.4" fill="#0a7d0a"/>
<rect x="510.39" y="389.3" width="2.5" height="2.4" fill="#0a7d0a"/>
<rect x="514.17" y="389.3" width="2.5" height="2.4" fill="#0a7d0a"/>
<rect x="517.96" y="389.3" width="2.5" height="2.4" fill="#0a7d0a"/>
<rect x="521.75" y="389.3" width="2.5" height="2.4" fill="#0a7d0a"/>
<rect x="525.53" y="389.3" width="2.5" height="2.4" fill="#0a7d0a"/>
<rect x="529.32" y="389.3" width="2.5" height="2.4" fill="#0a7d0a"/>
<rect x="533.10" y="389.3" width="2.5" height="2.4" fill="#0a7d0a"/>
<rect x="536.88" y="389.3" width="2.5" height="2.4" fill="#0a7d0a"/>
<rect x="540.67" y="389.3" width="2.5" height="2.4" fill="#0a7d0a"/>
<rect x="544.46" y="389.3" width="2.5" height="2.4" fill="#0a7d0a"/>
<rect x="548.24" y="389.3" width="2.5" height="2.4" fill="#0a7d0a"/>
<rect x="552.02" y="389.3" width="2.5" height="2.4" fill="#0a7d0a"/>
<rect x="555.81" y="389.3" width="2.5" height="2.4" fill="#0a7d0a"/>
<rect x="559.60" y="389.3" width="2.5" height="2.4" fill="#0a7d0a"/>
<rect x="563.38" y="389.3" width="2.5" height="2.4" fill="#0a7d0a"/>
<rect x="567.16" y="389.3" width="2.5" height="2.4" fill="#0a7d0a"/>
<rect x="570.95" y="389.3" width="2.5" height="2.4" fill="#0a7d0a"/>
<rect x="574.74" y="389.3" width="2.5" height="2.4" fill="#0a7d0a"/>
<rect x="578.52" y="389.3" width="2.5" height="2.4" fill="#0a7d0a"/>
<rect x="582.31" y="389.3" width="2.5" height="2.4" fill="#0a7d0a"/>
<rect x="586.09" y="389.3" width="2.5" height="2.4" fill="#0a7d0a"/>
<rect x="589.88" y="389.3" width="2.5" height="2.4" fill="#0a7d0a"/>
<rect x="593.66" y="389.3" width="2.5" height="2.4" fill="#0a7d0a"/>
<rect x="597.45" y="389.3" width="2.5" height="2.4" fill="#0a7d0a"/>
<rect x="601.23" y="389.3" width="2.5" height="2.4" fill="#0a7d0a"/>
<rect x="605.01" y="389.3" width="2.5" height="2.4" fill="#0a7d0a"/>
<rect x="608.80" y="389.3" width="2.5" height="2.4" fill="#0a7d0a"/>
<rect x="612.59" y="389.3" width="2.5" height="2.4" fill="#0a7d0a"/>
<rect x="616.37" y="389.3" width="2.5" height="2.4" fill="#0a7d0a"/>
<rect x="620.15" y="389.3" width="2.5" height="2.4" fill="#0a7d0a"/>
<rect x="623.94" y="389.3" width="2.5" height="2.4" fill="#0a7d0a"/>
<rect x="627.73" y="389.3" width="2.5" height="2.4" fill="#0a7d0a"/>
<rect x="631.51" y="389.3" width="2.5" height="2.4" fill="#0a7d0a"/>
<rect x="635.29" y="389.3" width="2.5" height="2.4" fill="#0a7d0a"/>
<rect x="639.08" y="389.3" width="2.5" height="2.4" fill="#0a7d0a"/>
<rect x="642.87" y="389.3" width="2.5" height="2.4" fill="#0a7d0a"/>
<rect x="646.65" y="389.3" width="2.5" height="2.4" fill="#0a7d0a"/>
<rect x="650.44" y="389.3" width="2.5" height="2.4" fill="#0a7d0a"/>
<rect x="654.22" y="389.3" width="2.5" height="2.4" fill="#0a7d0a"/>
<rect x="658.00" y="389.3" width="2.5" height="2.4" fill="#0a7d0a"/>
<rect x="661.79" y="389.3" width="2.5" height="2.4" fill="#0a7d0a"/>
<rect x="665.58" y="389.3" width="2.5" height="2.4" fill="#0a7d0a"/>
<rect x="669.36" y="389.3" width="2.5" height="2.4" fill="#0a7d0a"/>
<rect x="673.15" y="389.3" width="2.5" height="2.4" fill="#0a7d0a"/>
<rect x="676.93" y="389.3" width="2.5" height="2.4" fill="#0a7d0a"/>
<rect x="680.72" y="384.9" width="2.5" height="6.8" fill="#0a7d0a"/>
<rect x="684.50" y="389.3" width="2.5" height="2.4" fill="#0a7d0a"/>
<rect x="688.29" y="389.3" width="2.5" height="2.4" fill="#0a7d0a"/>
<rect x="692.07" y="389.3" width="2.5" height="2.4" fill="#0a7d0a"/>
<rect x="695.86" y="389.3" width="2.5" height="2.4" fill="#0a7d0a"/>
<rect x="699.64" y="389.3" width="2.5" height="2.4" fill="#0a7d0a"/>
<rect x="703.43" y="389.3" width="2.5" height="2.4" fill="#0a7d0a"/>
<rect x="707.21" y="389.3" width="2.5" height="2.4" fill="#0a7d0a"/>
<rect x="711.00" y="389.3" width="2.5" height="2.4" fill="#0a7d0a"/>
<rect x="714.78" y="389.3" width="2.5" height="2.4" fill="#0a7d0a"/>
<rect x="718.57" y="389.3" width="2.5" height="2.4" fill="#0a7d0a"/>
<rect x="722.35" y="389.3" width="2.5" height="2.4" fill="#0a7d0a"/>
<rect x="726.13" y="389.3" width="2.5" height="2.4" fill="#0a7d0a"/>
<rect x="729.92" y="389.3" width="2.5" height="2.4" fill="#0a7d0a"/>
<rect x="733.71" y="389.3" width="2.5" height="2.4" fill="#0a7d0a"/>
<rect x="737.49" y="389.3" width="2.5" height="2.4" fill="#0a7d0a"/>
<rect x="741.28" y="389.3" width="2.5" height="2.4" fill="#0a7d0a"/>
<rect x="745.06" y="389.3" width="2.5" height="2.4" fill="#0a7d0a"/>
<rect x="748.85" y="389.3" width="2.5" height="2.4" fill="#0a7d0a"/>
<rect x="752.63" y="389.3" width="2.5" height="2.4" fill="#0a7d0a"/>
<rect x="756.42" y="389.3" width="2.5" height="2.4" fill="#0a7d0a"/>
<rect x="760.20" y="389.3" width="2.5" height="2.4" fill="#0a7d0a"/>
<rect x="763.99" y="389.3" width="2.5" height="2.4" fill="#0a7d0a"/>
<rect x="767.77" y="389.3" width="2.5" height="2.4" fill="#0a7d0a"/>
<rect x="771.56" y="384.9" width="2.5" height="6.8" fill="#0a7d0a"/>
<rect x="154.60" y="400.3" width="2.5" height="19" fill="#1b9e77"/>
<rect x="158.38" y="400.3" width="2.5" height="19" fill="#1b9e77"/>
<rect x="162.17" y="400.3" width="2.5" height="19" fill="#1b9e77"/>
<rect x="165.95" y="400.3" width="2.5" height="19" fill="#1b9e77"/>
<rect x="169.74" y="400.3" width="2.5" height="19" fill="#1b9e77"/>
<rect x="173.53" y="400.3" width="2.5" height="19" fill="#1b9e77"/>
<rect x="177.31" y="400.3" width="2.5" height="19" fill="#1b9e77"/>
<rect x="181.09" y="400.3" width="2.5" height="19" fill="#1b9e77"/>
<rect x="184.88" y="400.3" width="2.5" height="19" fill="#1b9e77"/>
<rect x="188.66" y="400.3" width="2.5" height="19" fill="#1b9e77"/>
<rect x="192.45" y="400.3" width="2.5" height="19" fill="#1b9e77"/>
<rect x="196.24" y="400.3" width="2.5" height="19" fill="#1b9e77"/>
<rect x="200.02" y="400.3" width="2.5" height="19" fill="#1b9e77"/>
<rect x="203.81" y="400.3" width="2.5" height="19" fill="#1b9e77"/>
<rect x="207.59" y="400.3" width="2.5" height="19" fill="#1b9e77"/>
<rect x="211.38" y="400.3" width="2.5" height="19" fill="#1b9e77"/>
<rect x="215.16" y="400.3" width="2.5" height="19" fill="#1b9e77"/>
<rect x="218.94" y="400.3" width="2.5" height="19" fill="#1b9e77"/>
<rect x="222.73" y="400.3" width="2.5" height="19" fill="#1b9e77"/>
<rect x="226.51" y="400.3" width="2.5" height="19" fill="#1b9e77"/>
<rect x="230.30" y="400.3" width="2.5" height="19" fill="#1b9e77"/>
<rect x="234.08" y="400.3" width="2.5" height="19" fill="#1b9e77"/>
<rect x="237.87" y="400.3" width="2.5" height="19" fill="#1b9e77"/>
<rect x="241.66" y="400.3" width="2.5" height="19" fill="#1b9e77"/>
<rect x="245.44" y="400.3" width="2.5" height="19" fill="#1b9e77"/>
<rect x="249.22" y="400.3" width="2.5" height="19" fill="#1b9e77"/>
<rect x="253.01" y="400.3" width="2.5" height="19" fill="#1b9e77"/>
<rect x="256.80" y="400.3" width="2.5" height="19" fill="#1b9e77"/>
<rect x="260.58" y="400.3" width="2.5" height="19" fill="#1b9e77"/>
<rect x="264.37" y="400.3" width="2.5" height="19" fill="#1b9e77"/>
<rect x="268.15" y="400.3" width="2.5" height="19" fill="#1b9e77"/>
<rect x="271.94" y="400.3" width="2.5" height="19" fill="#1b9e77"/>
<rect x="275.72" y="400.3" width="2.5" height="19" fill="#1b9e77"/>
<rect x="279.50" y="400.3" width="2.5" height="19" fill="#1b9e77"/>
<rect x="283.29" y="400.3" width="2.5" height="19" fill="#1b9e77"/>
<rect x="287.07" y="400.3" width="2.5" height="19" fill="#1b9e77"/>
<rect x="290.86" y="400.3" width="2.5" height="19" fill="#1b9e77"/>
<rect x="294.64" y="400.3" width="2.5" height="19" fill="#1b9e77"/>
<rect x="298.43" y="400.3" width="2.5" height="19" fill="#1b9e77"/>
<rect x="302.22" y="400.3" width="2.5" height="19" fill="#1b9e77"/>
<rect x="306.00" y="400.3" width="2.5" height="19" fill="#1b9e77"/>
<rect x="309.78" y="400.3" width="2.5" height="19" fill="#1b9e77"/>
<rect x="313.57" y="400.3" width="2.5" height="19" fill="#1b9e77"/>
<rect x="317.36" y="400.3" width="2.5" height="19" fill="#1b9e77"/>
<rect x="321.14" y="400.3" width="2.5" height="19" fill="#1b9e77"/>
<rect x="324.93" y="409.4" width="2.5" height="0.8" fill="#b4b4b4"/>
<rect x="328.71" y="400.3" width="2.5" height="19" fill="#1b9e77"/>
<rect x="332.50" y="400.3" width="2.5" height="19" fill="#1b9e77"/>
<rect x="336.28" y="400.3" width="2.5" height="19" fill="#1b9e77"/>
<rect x="340.06" y="400.3" width="2.5" height="19" fill="#1b9e77"/>
<rect x="343.85" y="400.3" width="2.5" height="19" fill="#1b9e77"/>
<rect x="347.63" y="400.3" width="2.5" height="19" fill="#1b9e77"/>
<rect x="351.42" y="400.3" width="2.5" height="19" fill="#1b9e77"/>
<rect x="355.21" y="400.3" width="2.5" height="19" fill="#1b9e77"/>
<rect x="358.99" y="400.3" width="2.5" height="19" fill="#1b9e77"/>
<rect x="362.77" y="400.3" width="2.5" height="19" fill="#1b9e77"/>
<rect x="366.56" y="400.3" width="2.5" height="19" fill="#1b9e77"/>
<rect x="370.35" y="400.3" width="2.5" height="19" fill="#1b9e77"/>
<rect x="374.13" y="400.3" width="2.5" height="19" fill="#1b9e77"/>
<rect x="377.91" y="400.3" width="2.5" height="19" fill="#1b9e77"/>
<rect x="381.70" y="400.3" width="2.5" height="19" fill="#1b9e77"/>
<rect x="385.49" y="400.3" width="2.5" height="19" fill="#1b9e77"/>
<rect x="389.27" y="400.3" width="2.5" height="19" fill="#1b9e77"/>
<rect x="393.06" y="400.3" width="2.5" height="19" fill="#1b9e77"/>
<rect x="396.84" y="400.3" width="2.5" height="19" fill="#1b9e77"/>
<rect x="400.62" y="400.3" width="2.5" height="19" fill="#1b9e77"/>
<rect x="404.41" y="400.3" width="2.5" height="19" fill="#1b9e77"/>
<rect x="408.19" y="400.3" width="2.5" height="19" fill="#1b9e77"/>
<rect x="411.98" y="400.3" width="2.5" height="19" fill="#1b9e77"/>
<rect x="415.76" y="400.3" width="2.5" height="19" fill="#1b9e77"/>
<rect x="419.55" y="400.3" width="2.5" height="19" fill="#1b9e77"/>
<rect x="423.34" y="400.3" width="2.5" height="19" fill="#1b9e77"/>
<rect x="427.12" y="400.3" width="2.5" height="19" fill="#1b9e77"/>
<rect x="430.90" y="400.3" width="2.5" height="19" fill="#1b9e77"/>
<rect x="434.69" y="400.3" width="2.5" height="19" fill="#1b9e77"/>
<rect x="438.48" y="400.3" width="2.5" height="19" fill="#1b9e77"/>
<rect x="442.26" y="400.3" width="2.5" height="19" fill="#1b9e77"/>
<rect x="446.04" y="400.3" width="2.5" height="19" fill="#1b9e77"/>
<rect x="449.83" y="400.3" width="2.5" height="19" fill="#1b9e77"/>
<rect x="453.62" y="400.3" width="2.5" height="19" fill="#1b9e77"/>
<rect x="457.40" y="400.3" width="2.5" height="19" fill="#1b9e77"/>
<rect x="461.19" y="400.3" width="2.5" height="19" fill="#1b9e77"/>
<rect x="464.97" y="400.3" width="2.5" height="19" fill="#1b9e77"/>
<rect x="468.75" y="400.3" width="2.5" height="19" fill="#1b9e77"/>
<rect x="472.54" y="400.3" width="2.5" height="19" fill="#1b9e77"/>
<rect x="476.33" y="400.3" width="2.5" height="19" fill="#1b9e77"/>
<rect x="480.11" y="400.3" width="2.5" height="19" fill="#1b9e77"/>
<rect x="483.89" y="400.3" width="2.5" height="19" fill="#1b9e77"/>
<rect x="487.68" y="400.3" width="2.5" height="19" fill="#1b9e77"/>
<rect x="491.47" y="400.3" width="2.5" height="19" fill="#1b9e77"/>
<rect x="495.25" y="400.3" width="2.5" height="19" fill="#1b9e77"/>
<rect x="499.03" y="400.3" width="2.5" height="19" fill="#1b9e77"/>
<rect x="502.82" y="400.3" width="2.5" height="19" fill="#1b9e77"/>
<rect x="506.61" y="400.3" width="2.5" height="19" fill="#1b9e77"/>
<rect x="510.39" y="400.3" width="2.5" height="19" fill="#1b9e77"/>
<rect x="514.17" y="400.3" width="2.5" height="19" fill="#1b9e77"/>
<rect x="517.96" y="400.3" width="2.5" height="19" fill="#1b9e77"/>
<rect x="521.75" y="400.3" width="2.5" height="19" fill="#1b9e77"/>
<rect x="525.53" y="400.3" width="2.5" height="19" fill="#1b9e77"/>
<rect x="529.32" y="400.3" width="2.5" height="19" fill="#1b9e77"/>
<rect x="533.10" y="400.3" width="2.5" height="19" fill="#1b9e77"/>
<rect x="536.88" y="400.3" width="2.5" height="19" fill="#1b9e77"/>
<rect x="540.67" y="409.4" width="2.5" height="0.8" fill="#b4b4b4"/>
<rect x="544.46" y="400.3" width="2.5" height="19" fill="#1b9e77"/>
<rect x="548.24" y="400.3" width="2.5" height="19" fill="#1b9e77"/>
<rect x="552.02" y="400.3" width="2.5" height="19" fill="#1b9e77"/>
<rect x="555.81" y="400.3" width="2.5" height="19" fill="#1b9e77"/>
<rect x="559.60" y="400.3" width="2.5" height="19" fill="#1b9e77"/>
<rect x="563.38" y="400.3" width="2.5" height="19" fill="#1b9e77"/>
<rect x="567.16" y="409.4" width="2.5" height="0.8" fill="#b4b4b4"/>
<rect x="570.95" y="400.3" width="2.5" height="19" fill="#1b9e77"/>
<rect x="574.74" y="400.3" width="2.5" height="19" fill="#1b9e77"/>
<rect x="578.52" y="400.3" width="2.5" height="19" fill="#1b9e77"/>
<rect x="582.31" y="400.3" width="2.5" height="19" fill="#1b9e77"/>
<rect x="586.09" y="400.3" width="2.5" height="19" fill="#1b9e77"/>
<rect x="589.88" y="400.3" width="2.5" height="19" fill="#1b9e77"/>
<rect x="593.66" y="400.3" width="2.5" height="19" fill="#1b9e77"/>
<rect x="597.45" y="400.3" width="2.5" height="19" fill="#1b9e77"/>
<rect x="601.23" y="400.3" width="2.5" height="19" fill="#1b9e77"/>
<rect x="605.01" y="400.3" width="2.5" height="19" fill="#1b9e77"/>
<rect x="608.80" y="400.3" width="2.5" height="19" fill="#1b9e77"/>
<rect x="612.59" y="400.3" width="2.5" height="19" fill="#1b9e77"/>
<rect x="616.37" y="400.3" width="2.5" height="19" fill="#1b9e77"/>
<rect x="620.15" y="400.3" width="2.5" height="19" fill="#1b9e77"/>
<rect x="623.94" y="400.3" width="2.5" height="19" fill="#1b9e77"/>
<rect x="627.73" y="400.3" width="2.5" height="19" fill="#1b9e77"/>
<rect x="631.51" y="400.3" width="2.5" height="19" fill="#1b9e77"/>
<rect x="635.29" y="400.3" width="2.5" height="19" fill="#1b9e77"/>
<rect x="639.08" y="400.3" width="2.5" height="19" fill="#1b9e77"/>
<rect x="642.87" y="400.3" width="2.5" height="19" fill="#1b9e77"/>
<rect x="646.65" y="400.3" width="2.5" height="19" fill="#1b9e77"/>
<rect x="650.44" y="400.3" width="2.5" height="19" fill="#1b9e77"/>
<rect x="654.22" y="400.3" width="2.5" height="19" fill="#1b9e77"/>
<rect x="658.00" y="400.3" width="2.5" height="19" fill="#1b9e77"/>
<rect x="661.79" y="400.3" width="2.5" height="19" fill="#1b9e77"/>
<rect x="665.58" y="400.3" width="2.5" height="19" fill="#1b9e77"/>
<rect x="669.36" y="400.3" width="2.5" height="19" fill="#1b9e77"/>
<rect x="673.15" y="400.3" width="2.5" height="19" fill="#1b9e77"/>
<rect x="676.93" y="400.3" width="2.5" height="19" fill="#1b9e77"/>
<rect x="680.72" y="409.4" width="2.5" height="0.8" fill="#b4b4b4"/>
<rect x="684.50" y="400.3" width="2.5" height="19" fill="#1b9e77"/>
<rect x="688.29" y="400.3" width="2.5" height="19" fill="#1b9e77"/>
<rect x="692.07" y="409.4" width="2.5" height="0.8" fill="#b4b4b4"/>
<rect x="695.86" y="409.4" width="2.5" height="0.8" fill="#b4b4b4"/>
<rect x="699.64" y="400.3" width="2.5" height="19" fill="#1b9e77"/>
<rect x="703.43" y="400.3" width="2.5" height="19" fill="#1b9e77"/>
<rect x="707.21" y="400.3" width="2.5" height="19" fill="#1b9e77"/>
<rect x="711.00" y="400.3" width="2.5" height="19" fill="#1b9e77"/>
<rect x="714.78" y="400.3" width="2.5" height="19" fill="#1b9e77"/>
<rect x="718.57" y="400.3" width="2.5" height="19" fill="#1b9e77"/>
<rect x="722.35" y="400.3" width="2.5" height="19" fill="#1b9e77"/>
<rect x="726.13" y="400.3" width="2.5" height="19" fill="#1b9e77"/>
<rect x="729.92" y="400.3" width="2.5" height="19" fill="#1b9e77"/>
<rect x="733.71" y="400.3" width="2.5" height="19" fill="#1b9e77"/>
<rect x="737.49" y="400.3" width="2.5" height="19" fill="#1b9e77"/>
<rect x="741.28" y="400.3" width="2.5" height="19" fill="#1b9e77"/>
<rect x="745.06" y="400.3" width="2.5" height="19" fill="#1b9e77"/>
<rect x="748.85" y="400.3" width="2.5" height="19" fill="#1b9e77"/>
<rect x="752.63" y="400.3" width="2.5" height="19" fill="#1b9e77"/>
<rect x="756.42" y="400.3" width="2.5" height="19" fill="#1b9e77"/>
<rect x="760.20" y="400.3" width="2.5" height="19" fill="#1b9e77"/>
<rect x="763.99" y="400.3" width="2.5" height="19" fill="#1b9e77"/>
<rect x="767.77" y="400.3" width="2.5" height="19" fill="#1b9e77"/>
<rect x="771.56" y="409.4" width="2.5" height="0.8" fill="#b4b4b4"/>
<rect x="154.60" y="428" width="2.5" height="19" fill="#1b9e77"/>
<rect x="158.38" y="437.1" width="2.5" height="0.8" fill="#b4b4b4"/>
<rect x="162.17" y="437.1" width="2.5" height="0.8" fill="#b4b4b4"/>
<rect x="165.95" y="428" width="2.5" height="19" fill="#1b9e77"/>
<rect x="169.74" y="428" width="2.5" height="19" fill="#1b9e77"/>
<rect x="173.53" y="428" width="2.5" height="19" fill="#1b9e77"/>
<rect x="177.31" y="437.1" width="2.5" height="0.8" fill="#b4b4b4"/>
<rect x="181.09" y="428" width="2.5" height="19" fill="#1b9e77"/>
<rect x="184.88" y="437.1" width="2.5" height="0.8" fill="#b4b4b4"/>
<rect x="188.66" y="428" width="2.5" height="19" fill="#1b9e77"/>
<rect x="192.45" y="437.1" width="2.5" height="0.8" fill="#b4b4b4"/>
<rect x="196.24" y="437.1" width="2.5" height="0.8" fill="#b4b4b4"/>
<rect x="200.02" y="428" width="2.5" height="19" fill="#1b9e77"/>
<rect x="203.81" y="428" width="2.5" height="19" fill="#1b9e77"/>
<rect x="207.59" y="437.1" width="2.5" height="0.8" fill="#b4b4b4"/>
<rect x="211.38" y="428" width="2.5" height="19" fill="#1b9e77"/>
<rect x="215.16" y="428" width="2.5" height="19" fill="#1b9e77"/>
<rect x="218.94" y="428" width="2.5" height="19" fill="#1b9e77"/>
<rect x="222.73" y="428" width="2.5" height="19" fill="#1b9e77"/>
<rect x="226.51" y="437.1" width="2.5" height="0.8" fill="#b4b4b4"/>
<rect x="230.30" y="437.1" width="2.5" height="0.8" fill="#b4b4b4"/>
<rect x="234.08" y="428" width="2.5" height="19" fill="#1b9e77"/>
<rect x="237.87" y="437.1" width="2.5" height="0.8" fill="#b4b4b4"/>
<rect x="241.66" y="428" width="2.5" height="19" fill="#1b9e77"/>
<rect x="245.44" y="437.1" width="2.5" height="0.8" fill="#b4b4b4"/>
<rect x="249.22" y="428" width="2.5" height="19" fill="#1b9e77"/>
<rect x="253.01" y="437.1" width="2.5" height="0.8" fill="#b4b4b4"/>
<rect x="256.80" y="428" width="2.5" height="19" fill="#1b9e77"/>
<rect x="260.58" y="437.1" width="2.5" height="0.8" fill="#b4b4b4"/>
<rect x="264.37" y="428" width="2.5" height="19" fill="#1b9e77"/>
<rect x="268.15" y="437.1" width="2.5" height="0.8" fill="#b4b4b4"/>
<rect x="271.94" y="428" width="2.5" height="19" fill="#1b9e77"/>
<rect x="275.72" y="437.1" width="2.5" height="0.8" fill="#b4b4b4"/>
<rect x="279.50" y="437.1" width="2.5" height="0.8" fill="#b4b4b4"/>
<rect x="283.29" y="437.1" width="2.5" height="0.8" fill="#b4b4b4"/>
<rect x="287.07" y="428" width="2.5" height="19" fill="#1b9e77"/>
<rect x="290.86" y="428" width="2.5" height="19" fill="#1b9e77"/>
<rect x="294.64" y="437.1" width="2.5" height="0.8" fill="#b4b4b4"/>
<rect x="298.43" y="428" width="2.5" height="19" fill="#1b9e77"/>
<rect x="302.22" y="428" width="2.5" height="19" fill="#1b9e77"/>
<rect x="306.00" y="428" width="2.5" height="19" fill="#1b9e77"/>
<rect x="309.78" y="428" width="2.5" height="19" fill="#1b9e77"/>
<rect x="313.57" y="428" width="2.5" height="19" fill="#1b9e77"/>
<rect x="317.36" y="428" width="2.5" height="19" fill="#1b9e77"/>
<rect x="321.14" y="428" width="2.5" height="19" fill="#1b9e77"/>
<rect x="324.93" y="428" width="2.5" height="19" fill="#1b9e77"/>
<rect x="328.71" y="428" width="2.5" height="19" fill="#1b9e77"/>
<rect x="332.50" y="428" width="2.5" height="19" fill="#1b9e77"/>
<rect x="336.28" y="428" width="2.5" height="19" fill="#1b9e77"/>
<rect x="340.06" y="428" width="2.5" height="19" fill="#1b9e77"/>
<rect x="343.85" y="428" width="2.5" height="19" fill="#1b9e77"/>
<rect x="347.63" y="428" width="2.5" height="19" fill="#1b9e77"/>
<rect x="351.42" y="428" width="2.5" height="19" fill="#1b9e77"/>
<rect x="355.21" y="428" width="2.5" height="19" fill="#1b9e77"/>
<rect x="358.99" y="428" width="2.5" height="19" fill="#1b9e77"/>
<rect x="362.77" y="428" width="2.5" height="19" fill="#1b9e77"/>
<rect x="366.56" y="428" width="2.5" height="19" fill="#1b9e77"/>
<rect x="370.35" y="428" width="2.5" height="19" fill="#1b9e77"/>
<rect x="374.13" y="428" width="2.5" height="19" fill="#1b9e77"/>
<rect x="377.91" y="437.1" width="2.5" height="0.8" fill="#b4b4b4"/>
<rect x="381.70" y="437.1" width="2.5" height="0.8" fill="#b4b4b4"/>
<rect x="385.49" y="428" width="2.5" height="19" fill="#1b9e77"/>
<rect x="389.27" y="428" width="2.5" height="19" fill="#1b9e77"/>
<rect x="393.06" y="428" width="2.5" height="19" fill="#1b9e77"/>
<rect x="396.84" y="428" width="2.5" height="19" fill="#1b9e77"/>
<rect x="400.62" y="428" width="2.5" height="19" fill="#1b9e77"/>
<rect x="404.41" y="428" width="2.5" height="19" fill="#1b9e77"/>
<rect x="408.19" y="428" width="2.5" height="19" fill="#1b9e77"/>
<rect x="411.98" y="428" width="2.5" height="19" fill="#1b9e77"/>
<rect x="415.76" y="428" width="2.5" height="19" fill="#1b9e77"/>
<rect x="419.55" y="428" width="2.5" height="19" fill="#1b9e77"/>
<rect x="423.34" y="437.1" width="2.5" height="0.8" fill="#b4b4b4"/>
<rect x="427.12" y="428" width="2.5" height="19" fill="#1b9e77"/>
<rect x="430.90" y="428" width="2.5" height="19" fill="#1b9e77"/>
<rect x="434.69" y="428" width="2.5" height="19" fill="#1b9e77"/>
<rect x="438.48" y="428" width="2.5" height="19" fill="#1b9e77"/>
<rect x="442.26" y="428" width="2.5" height="19" fill="#1b9e77"/>
<rect x="446.04" y="428" width="2.5" height="19" fill="#1b9e77"/>
<rect x="449.83" y="428" width="2.5" height="19" fill="#1b9e77"/>
<rect x="453.62" y="428" width="2.5" height="19" fill="#1b9e77"/>
<rect x="457.40" y="428" width="2.5" height="19" fill="#1b9e77"/>
<rect x="461.19" y="437.1" width="2.5" height="0.8" fill="#b4b4b4"/>
<rect x="464.97" y="428" width="2.5" height="19" fill="#1b9e77"/>
<rect x="468.75" y="437.1" width="2.5" height="0.8" fill="#b4b4b4"/>
<rect x="472.54" y="428" width="2.5" height="19" fill="#1b9e77"/>
<rect x="476.33" y="437.1" width="2.5" height="0.8" fill="#b4b4b4"/>
<rect x="480.11" y="428" width="2.5" height="19" fill="#1b9e77"/>
<rect x="483.89" y="428" width="2.5" height="19" fill="#1b9e77"/>
<rect x="487.68" y="428" width="2.5" height="19" fill="#1b9e77"/>
<rect x="491.47" y="428" width="2.5" height="19" fill="#1b9e77"/>
<rect x="495.25" y="428" width="2.5" height="19" fill="#1b9e77"/>
<rect x="499.03" y="437.1" width="2.5" height="0.8" fill="#b4b4b4"/>
<rect x="502.82" y="428" width="2.5" height="19" fill="#1b9e77"/>
<rect x="506.61" y="437.1" width="2.5" height="0.8" fill="#b4b4b4"/>
<rect x="510.39" y="437.1" width="2.5" height="0.8" fill="#b4b4b4"/>
<rect x="514.17" y="437.1" width="2.5" height="0.8" fill="#b4b4b4"/>
<rect x="517.96" y="428" width="2.5" height="19" fill="#1b9e77"/>
<rect x="521.75" y="428" width="2.5" height="19" fill="#1b9e77"/>
<rect x="525.53" y="428" width="2.5" height="19" fill="#1b9e77"/>
<rect x="529.32" y="428" width="2.5" height="19" fill="#1b9e77"/>
<rect x="533.10" y="428" width="2.5" height="19" fill="#1b9e77"/>
<rect x="536.88" y="437.1" width="2.5" height="0.8" fill="#b4b4b4"/>
<rect x="540.67" y="428" width="2.5" height="19" fill="#1b9e77"/>
<rect x="544.46" y="428" width="2.5" height="19" fill="#1b9e77"/>
<rect x="548.24" y="428" width="2.5" height="19" fill="#1b9e77"/>
<rect x="552.02" y="428" width="2.5" height="19" fill="#1b9e77"/>
<rect x="555.81" y="428" width="2.5" height="19" fill="#1b9e77"/>
<rect x="559.60" y="428" width="2.5" height="19" fill="#1b9e77"/>
<rect x="563.38" y="428" width="2.5" height="19" fill="#1b9e77"/>
<rect x="567.16" y="428" width="2.5" height="19" fill="#1b9e77"/>
<rect x="570.95" y="428" width="2.5" height="19" fill="#1b9e77"/>
<rect x="574.74" y="428" width="2.5" height="19" fill="#1b9e77"/>
<rect x="578.52" y="428" width="2.5" height="19" fill="#1b9e77"/>
<rect x="582.31" y="428" width="2.5" height="19" fill="#1b9e77"/>
<rect x="586.09" y="428" width="2.5" height="19" fill="#1b9e77"/>
<rect x="589.88" y="428" width="2.5" height="19" fill="#1b9e77"/>
<rect x="593.66" y="428" width="2.5" height="19" fill="#1b9e77"/>
<rect x="597.45" y="428" width="2.5" height="19" fill="#1b9e77"/>
<rect x="601.23" y="428" width="2.5" height="19" fill="#1b9e77"/>
<rect x="605.01" y="428" width="2.5" height="19" fill="#1b9e77"/>
<rect x="608.80" y="428" width="2.5" height="19" fill="#1b9e77"/>
<rect x="612.59" y="428" width="2.5" height="19" fill="#1b9e77"/>
<rect x="616.37" y="428" width="2.5" height="19" fill="#1b9e77"/>
<rect x="620.15" y="428" width="2.5" height="19" fill="#1b9e77"/>
<rect x="623.94" y="428" width="2.5" height="19" fill="#1b9e77"/>
<rect x="627.73" y="428" width="2.5" height="19" fill="#1b9e77"/>
<rect x="631.51" y="437.1" width="2.5" height="0.8" fill="#b4b4b4"/>
<rect x="635.29" y="428" width="2.5" height="19" fill="#1b9e77"/>
<rect x="639.08" y="437.1" width="2.5" height="0.8" fill="#b4b4b4"/>
<rect x="642.87" y="428" width="2.5" height="19" fill="#1b9e77"/>
<rect x="646.65" y="437.1" width="2.5" height="0.8" fill="#b4b4b4"/>
<rect x="650.44" y="428" width="2.5" height="19" fill="#1b9e77"/>
<rect x="654.22" y="428" width="2.5" height="19" fill="#1b9e77"/>
<rect x="658.00" y="437.1" width="2.5" height="0.8" fill="#b4b4b4"/>
<rect x="661.79" y="428" width="2.5" height="19" fill="#1b9e77"/>
<rect x="665.58" y="437.1" width="2.5" height="0.8" fill="#b4b4b4"/>
<rect x="669.36" y="428" width="2.5" height="19" fill="#1b9e77"/>
<rect x="673.15" y="428" width="2.5" height="19" fill="#1b9e77"/>
<rect x="676.93" y="428" width="2.5" height="19" fill="#1b9e77"/>
<rect x="680.72" y="428" width="2.5" height="19" fill="#1b9e77"/>
<rect x="684.50" y="428" width="2.5" height="19" fill="#1b9e77"/>
<rect x="688.29" y="428" width="2.5" height="19" fill="#1b9e77"/>
<rect x="692.07" y="428" width="2.5" height="19" fill="#1b9e77"/>
<rect x="695.86" y="428" width="2.5" height="19" fill="#1b9e77"/>
<rect x="699.64" y="428" width="2.5" height="19" fill="#1b9e77"/>
<rect x="703.43" y="428" width="2.5" height="19" fill="#1b9e77"/>
<rect x="707.21" y="428" width="2.5" height="19" fill="#1b9e77"/>
<rect x="711.00" y="428" width="2.5" height="19" fill="#1b9e77"/>
<rect x="714.78" y="428" width="2.5" height="19" fill="#1b9e77"/>
<rect x="718.57" y="428" width="2.5" height="19" fill="#1b9e77"/>
<rect x="722.35" y="428" width="2.5" height="19" fill="#1b9e77"/>
<rect x="726.13" y="428" width="2.5" height="19" fill="#1b9e77"/>
<rect x="729.92" y="428" width="2.5" height="19" fill="#1b9e77"/>
<rect x="733.71" y="428" width="2.5" height="19" fill="#1b9e77"/>
<rect x="737.49" y="428" width="2.5" height="19" fill="#1b9e77"/>
<rect x="741.28" y="428" width="2.5" height="19" fill="#1b9e77"/>
<rect x="745.06" y="428" width="2.5" height="19" fill="#1b9e77"/>
<rect x="748.85" y="428" width="2.5" height="19" fill="#1b9e77"/>
<rect x="752.63" y="428" width="2.5" height="19" fill="#1b9e77"/>
<rect x="756.42" y="428" width="2.5" height="19" fill="#1b9e77"/>
<rect x="760.20" y="428" width="2.5" height="19" fill="#1b9e77"/>
<rect x="763.99" y="428" width="2.5" height="19" fill="#1b9e77"/>
<rect x="767.77" y="428" width="2.5" height="19" fill="#1b9e77"/>
<rect x="771.56" y="428" width="2.5" height="19" fill="#1b9e77"/>
<rect x="154.60" y="464.3" width="2.5" height="19" fill="#ff0000"/>
<rect x="158.38" y="464.3" width="2.5" height="19" fill="#ff0000"/>
<rect x="162.17" y="464.3" width="2.5" height="19" fill="#ff0000"/>
<rect x="165.95" y="464.3" width="2.5" height="19" fill="#ff0000"/>
<rect x="169.74" y="464.3" width="2.5" height="19" fill="#ff0000"/>
<rect x="173.53" y="464.3" width="2.5" height="19" fill="#ff0000"/>
<rect x="177.31" y="464.3" width="2.5" height="19" fill="#ff0000"/>
<rect x="181.09" y="464.3" width="2.5" height="19" fill="#ff0000"/>
<rect x="184.88" y="464.3" width="2.5" height="19" fill="#ff0000"/>
<rect x="188.66" y="464.3" width="2.5" height="19" fill="#ff0000"/>
<rect x="192.45" y="464.3" width="2.5" height="19" fill="#ff0000"/>
<rect x="196.24" y="464.3" width="2.5" height="19" fill="#ff0000"/>
<rect x="200.02" y="464.3" width="2.5" height="19" fill="#ff0000"/>
<rect x="203.81" y="464.3" width="2.5" height="19" fill="#ff0000"/>
<rect x="207.59" y="464.3" width="2.5" height="19" fill="#ff0000"/>
<rect x="211.38" y="464.3" width="2.5" height="19" fill="#ff0000"/>
<rect x="215.16" y="464.3" width="2.5" height="19" fill="#ff0000"/>
<rect x="218.94" y="464.3" width="2.5" height="19" fill="#ff0000"/>
<rect x="222.73" y="464.3" width="2.5" height="19" fill="#ff0000"/>
<rect x="226.51" y="464.3" width="2.5" height="19" fill="#ff0000"/>
<rect x="230.30" y="464.3" width="2.5" height="19" fill="#ff0000"/>
<rect x="234.08" y="464.3" width="2.5" height="19" fill="#ff0000"/>
<rect x="237.87" y="464.3" width="2.5" height="19" fill="#ff0000"/>
<rect x="241.66" y="464.3" width="2.5" height="19" fill="#ff0000"/>
<rect x="245.44" y="464.3" width="2.5" height="19" fill="#ff0000"/>
<rect x="249.22" y="464.3" width="2.5" height="19" fill="#ff0000"/>
<rect x="253.01" y="464.3" width="2.5" height="19" fill="#ff0000"/>
<rect x="256.80" y="464.3" width="2.5" height="19" fill="#ff0000"/>
<rect x="260.58" y="464.3" width="2.5" height="19" fill="#ff0000"/>
<rect x="264.37" y="464.3" width="2.5" height="19" fill="#ff0000"/>
<rect x="268.15" y="464.3" width="2.5" height="19" fill="#ff0000"/>
<rect x="271.94" y="464.3" width="2.5" height="19" fill="#ff0000"/>
<rect x="275.72" y="464.3" width="2.5" height="19" fill="#ff0000"/>
<rect x="279.50" y="464.3" width="2.5" height="19" fill="#ff0000"/>
<rect x="283.29" y="464.3" width="2.5" height="19" fill="#0000ff"/>
<rect x="287.07" y="464.3" width="2.5" height="19" fill="#0000ff"/>
<rect x="290.86" y="464.3" width="2.5" height="19" fill="#0000ff"/>
<rect x="294.64" y="464.3" width="2.5" height="19" fill="#0000ff"/>
<rect x="298.43" y="464.3" width="2.5" height="19" fill="#0000ff"/>
<rect x="302.22" y="464.3" width="2.5" height="19" fill="#0000ff"/>
<rect x="306.00" y="464.3" width="2.5" height="19" fill="#0000ff"/>
<rect x="309.78" y="464.3" width="2.5" height="19" fill="#0000ff"/>
<rect x="313.57" y="464.3" width="2.5" height="19" fill="#c0c0c0"/>
<rect x="313.57" y="470.6" width="2.5" height="6.4" fill="#6f8396"/>
<rect x="317.36" y="464.3" width="2.5" height="19" fill="#c0c0c0"/>
<rect x="317.36" y="470.6" width="2.5" height="6.4" fill="#6f8396"/>
<rect x="321.14" y="464.3" width="2.5" height="19" fill="#c0c0c0"/>
<rect x="321.14" y="470.6" width="2.5" height="6.4" fill="#6f8396"/>
<rect x="324.93" y="464.3" width="2.5" height="19" fill="#c0c0c0"/>
<rect x="324.93" y="470.6" width="2.5" height="6.4" fill="#5fd000"/>
<rect x="328.71" y="464.3" width="2.5" height="19" fill="#c0c0c0"/>
<rect x="328.71" y="470.6" width="2.5" height="6.4" fill="#5fd000"/>
<rect x="332.50" y="464.3" width="2.5" height="19" fill="#c0c0c0"/>
<rect x="332.50" y="470.6" width="2.5" height="6.4" fill="#5fd000"/>
<rect x="336.28" y="464.3" width="2.5" height="19" fill="#c0c0c0"/>
<rect x="336.28" y="470.6" width="2.5" height="6.4" fill="#5fd000"/>
<rect x="340.06" y="464.3" width="2.5" height="19" fill="#c0c0c0"/>
<rect x="340.06" y="470.6" width="2.5" height="6.4" fill="#5fd000"/>
<rect x="343.85" y="464.3" width="2.5" height="19" fill="#c0c0c0"/>
<rect x="343.85" y="470.6" width="2.5" height="6.4" fill="#5fd000"/>
<rect x="347.63" y="464.3" width="2.5" height="19" fill="#c0c0c0"/>
<rect x="347.63" y="470.6" width="2.5" height="6.4" fill="#5fd000"/>
<rect x="351.42" y="464.3" width="2.5" height="19" fill="#c0c0c0"/>
<rect x="351.42" y="470.6" width="2.5" height="6.4" fill="#5fd000"/>
<rect x="355.21" y="464.3" width="2.5" height="19" fill="#c0c0c0"/>
<rect x="355.21" y="470.6" width="2.5" height="6.4" fill="#5fd000"/>
<rect x="358.99" y="464.3" width="2.5" height="19" fill="#c0c0c0"/>
<rect x="358.99" y="470.6" width="2.5" height="6.4" fill="#5fd000"/>
<rect x="362.77" y="464.3" width="2.5" height="19" fill="#c0c0c0"/>
<rect x="362.77" y="470.6" width="2.5" height="6.4" fill="#5fd000"/>
<rect x="366.56" y="464.3" width="2.5" height="19" fill="#c0c0c0"/>
<rect x="366.56" y="470.6" width="2.5" height="6.4" fill="#5fd000"/>
<rect x="370.35" y="464.3" width="2.5" height="19" fill="#c0c0c0"/>
<rect x="374.13" y="464.3" width="2.5" height="19" fill="#c0c0c0"/>
<rect x="377.91" y="464.3" width="2.5" height="19" fill="#c0c0c0"/>
<rect x="381.70" y="464.3" width="2.5" height="19" fill="#c0c0c0"/>
<rect x="385.49" y="464.3" width="2.5" height="19" fill="#c0c0c0"/>
<rect x="389.27" y="464.3" width="2.5" height="19" fill="#c0c0c0"/>
<rect x="393.06" y="464.3" width="2.5" height="19" fill="#c0c0c0"/>
<rect x="396.84" y="464.3" width="2.5" height="19" fill="#c0c0c0"/>
<rect x="400.62" y="464.3" width="2.5" height="19" fill="#c0c0c0"/>
<rect x="404.41" y="464.3" width="2.5" height="19" fill="#c0c0c0"/>
<rect x="408.19" y="464.3" width="2.5" height="19" fill="#c0c0c0"/>
<rect x="411.98" y="464.3" width="2.5" height="19" fill="#c0c0c0"/>
<rect x="415.76" y="464.3" width="2.5" height="19" fill="#c0c0c0"/>
<rect x="419.55" y="464.3" width="2.5" height="19" fill="#c0c0c0"/>
<rect x="423.34" y="464.3" width="2.5" height="19" fill="#c0c0c0"/>
<rect x="427.12" y="464.3" width="2.5" height="19" fill="#c0c0c0"/>
<rect x="430.90" y="464.3" width="2.5" height="19" fill="#c0c0c0"/>
<rect x="434.69" y="464.3" width="2.5" height="19" fill="#c0c0c0"/>
<rect x="438.48" y="464.3" width="2.5" height="19" fill="#c0c0c0"/>
<rect x="442.26" y="464.3" width="2.5" height="19" fill="#c0c0c0"/>
<rect x="446.04" y="464.3" width="2.5" height="19" fill="#c0c0c0"/>
<rect x="449.83" y="464.3" width="2.5" height="19" fill="#c0c0c0"/>
<rect x="453.62" y="464.3" width="2.5" height="19" fill="#c0c0c0"/>
<rect x="457.40" y="464.3" width="2.5" height="19" fill="#c0c0c0"/>
<rect x="461.19" y="464.3" width="2.5" height="19" fill="#c0c0c0"/>
<rect x="464.97" y="464.3" width="2.5" height="19" fill="#c0c0c0"/>
<rect x="468.75" y="464.3" width="2.5" height="19" fill="#c0c0c0"/>
<rect x="472.54" y="464.3" width="2.5" height="19" fill="#c0c0c0"/>
<rect x="476.33" y="464.3" width="2.5" height="19" fill="#c0c0c0"/>
<rect x="480.11" y="464.3" width="2.5" height="19" fill="#c0c0c0"/>
<rect x="483.89" y="464.3" width="2.5" height="19" fill="#c0c0c0"/>
<rect x="487.68" y="464.3" width="2.5" height="19" fill="#c0c0c0"/>
<rect x="491.47" y="464.3" width="2.5" height="19" fill="#c0c0c0"/>
<rect x="495.25" y="464.3" width="2.5" height="19" fill="#c0c0c0"/>
<rect x="499.03" y="464.3" width="2.5" height="19" fill="#c0c0c0"/>
<rect x="502.82" y="464.3" width="2.5" height="19" fill="#c0c0c0"/>
<rect x="506.61" y="464.3" width="2.5" height="19" fill="#c0c0c0"/>
<rect x="510.39" y="464.3" width="2.5" height="19" fill="#c0c0c0"/>
<rect x="514.17" y="464.3" width="2.5" height="19" fill="#c0c0c0"/>
<rect x="517.96" y="464.3" width="2.5" height="19" fill="#c0c0c0"/>
<rect x="521.75" y="464.3" width="2.5" height="19" fill="#c0c0c0"/>
<rect x="525.53" y="464.3" width="2.5" height="19" fill="#c0c0c0"/>
<rect x="529.32" y="464.3" width="2.5" height="19" fill="#c0c0c0"/>
<rect x="533.10" y="464.3" width="2.5" height="19" fill="#c0c0c0"/>
<rect x="536.88" y="464.3" width="2.5" height="19" fill="#c0c0c0"/>
<rect x="540.67" y="464.3" width="2.5" height="19" fill="#c0c0c0"/>
<rect x="544.46" y="464.3" width="2.5" height="19" fill="#c0c0c0"/>
<rect x="548.24" y="464.3" width="2.5" height="19" fill="#c0c0c0"/>
<rect x="552.02" y="464.3" width="2.5" height="19" fill="#c0c0c0"/>
<rect x="555.81" y="464.3" width="2.5" height="19" fill="#c0c0c0"/>
<rect x="559.60" y="464.3" width="2.5" height="19" fill="#c0c0c0"/>
<rect x="563.38" y="464.3" width="2.5" height="19" fill="#c0c0c0"/>
<rect x="567.16" y="464.3" width="2.5" height="19" fill="#c0c0c0"/>
<rect x="570.95" y="464.3" width="2.5" height="19" fill="#c0c0c0"/>
<rect x="574.74" y="464.3" width="2.5" height="19" fill="#c0c0c0"/>
<rect x="578.52" y="464.3" width="2.5" height="19" fill="#c0c0c0"/>
<rect x="582.31" y="464.3" width="2.5" height="19" fill="#c0c0c0"/>
<rect x="586.09" y="464.3" width="2.5" height="19" fill="#c0c0c0"/>
<rect x="589.88" y="464.3" width="2.5" height="19" fill="#c0c0c0"/>
<rect x="593.66" y="464.3" width="2.5" height="19" fill="#c0c0c0"/>
<rect x="597.45" y="464.3" width="2.5" height="19" fill="#c0c0c0"/>
<rect x="601.23" y="464.3" width="2.5" height="19" fill="#c0c0c0"/>
<rect x="605.01" y="464.3" width="2.5" height="19" fill="#c0c0c0"/>
<rect x="608.80" y="464.3" width="2.5" height="19" fill="#c0c0c0"/>
<rect x="612.59" y="464.3" width="2.5" height="19" fill="#c0c0c0"/>
<rect x="616.37" y="464.3" width="2.5" height="19" fill="#c0c0c0"/>
<rect x="620.15" y="464.3" width="2.5" height="19" fill="#c0c0c0"/>
<rect x="623.94" y="464.3" width="2.5" height="19" fill="#c0c0c0"/>
<rect x="627.73" y="464.3" width="2.5" height="19" fill="#c0c0c0"/>
<rect x="631.51" y="464.3" width="2.5" height="19" fill="#c0c0c0"/>
<rect x="635.29" y="464.3" width="2.5" height="19" fill="#c0c0c0"/>
<rect x="639.08" y="464.3" width="2.5" height="19" fill="#c0c0c0"/>
<rect x="642.87" y="464.3" width="2.5" height="19" fill="#c0c0c0"/>
<rect x="646.65" y="464.3" width="2.5" height="19" fill="#c0c0c0"/>
<rect x="650.44" y="464.3" width="2.5" height="19" fill="#c0c0c0"/>
<rect x="654.22" y="464.3" width="2.5" height="19" fill="#c0c0c0"/>
<rect x="658.00" y="464.3" width="2.5" height="19" fill="#c0c0c0"/>
<rect x="661.79" y="464.3" width="2.5" height="19" fill="#c0c0c0"/>
<rect x="665.58" y="464.3" width="2.5" height="19" fill="#c0c0c0"/>
<rect x="669.36" y="464.3" width="2.5" height="19" fill="#c0c0c0"/>
<rect x="673.15" y="464.3" width="2.5" height="19" fill="#c0c0c0"/>
<rect x="676.93" y="464.3" width="2.5" height="19" fill="#c0c0c0"/>
<rect x="680.72" y="464.3" width="2.5" height="19" fill="#c0c0c0"/>
<rect x="684.50" y="464.3" width="2.5" height="19" fill="#c0c0c0"/>
<rect x="688.29" y="464.3" width="2.5" height="19" fill="#c0c0c0"/>
<rect x="692.07" y="464.3" width="2.5" height="19" fill="#c0c0c0"/>
<rect x="695.86" y="464.3" width="2.5" height="19" fill="#c0c0c0"/>
<rect x="699.64" y="464.3" width="2.5" height="19" fill="#c0c0c0"/>
<rect x="703.43" y="464.3" width="2.5" height="19" fill="#c0c0c0"/>
<rect x="707.21" y="464.3" width="2.5" height="19" fill="#c0c0c0"/>
<rect x="711.00" y="464.3" width="2.5" height="19" fill="#c0c0c0"/>
<rect x="714.78" y="464.3" width="2.5" height="19" fill="#c0c0c0"/>
<rect x="718.57" y="464.3" width="2.5" height="19" fill="#c0c0c0"/>
<rect x="722.35" y="464.3" width="2.5" height="19" fill="#c0c0c0"/>
<rect x="726.13" y="464.3" width="2.5" height="19" fill="#c0c0c0"/>
<rect x="729.92" y="464.3" width="2.5" height="19" fill="#c0c0c0"/>
<rect x="733.71" y="464.3" width="2.5" height="19" fill="#c0c0c0"/>
<rect x="737.49" y="464.3" width="2.5" height="19" fill="#c0c0c0"/>
<rect x="741.28" y="464.3" width="2.5" height="19" fill="#c0c0c0"/>
<rect x="745.06" y="464.3" width="2.5" height="19" fill="#c0c0c0"/>
<rect x="748.85" y="464.3" width="2.5" height="19" fill="#c0c0c0"/>
<rect x="752.63" y="464.3" width="2.5" height="19" fill="#c0c0c0"/>
<rect x="756.42" y="464.3" width="2.5" height="19" fill="#c0c0c0"/>
<rect x="760.20" y="464.3" width="2.5" height="19" fill="#c0c0c0"/>
<rect x="763.99" y="464.3" width="2.5" height="19" fill="#c0c0c0"/>
<rect x="767.77" y="464.3" width="2.5" height="19" fill="#c0c0c0"/>
<rect x="771.56" y="464.3" width="2.5" height="19" fill="#c0c0c0"/>
<rect x="154.60" y="491.8" width="2.5" height="19" fill="#c0c0c0"/>
<rect x="154.60" y="498.1" width="2.5" height="6.4" fill="#5fd000"/>
<rect x="158.38" y="491.8" width="2.5" height="19" fill="#c0c0c0"/>
<rect x="162.17" y="491.8" width="2.5" height="19" fill="#c0c0c0"/>
<rect x="165.95" y="491.8" width="2.5" height="19" fill="#c0c0c0"/>
<rect x="169.74" y="491.8" width="2.5" height="19" fill="#c0c0c0"/>
<rect x="173.53" y="491.8" width="2.5" height="19" fill="#c0c0c0"/>
<rect x="177.31" y="491.8" width="2.5" height="19" fill="#c0c0c0"/>
<rect x="181.09" y="491.8" width="2.5" height="19" fill="#c0c0c0"/>
<rect x="184.88" y="491.8" width="2.5" height="19" fill="#c0c0c0"/>
<rect x="188.66" y="491.8" width="2.5" height="19" fill="#c0c0c0"/>
<rect x="192.45" y="491.8" width="2.5" height="19" fill="#c0c0c0"/>
<rect x="196.24" y="491.8" width="2.5" height="19" fill="#c0c0c0"/>
<rect x="200.02" y="491.8" width="2.5" height="19" fill="#c0c0c0"/>
<rect x="203.81" y="491.8" width="2.5" height="19" fill="#c0c0c0"/>
<rect x="207.59" y="491.8" width="2.5" height="19" fill="#c0c0c0"/>
<rect x="211.38" y="491.8" width="2.5" height="19" fill="#c0c0c0"/>
<rect x="215.16" y="491.8" width="2.5" height="19" fill="#c0c0c0"/>
<rect x="218.94" y="491.8" width="2.5" height="19" fill="#c0c0c0"/>
<rect x="222.73" y="491.8" width="2.5" height="19" fill="#c0c0c0"/>
<rect x="226.51" y="491.8" width="2.5" height="19" fill="#c0c0c0"/>
<rect x="230.30" y="491.8" width="2.5" height="19" fill="#c0c0c0"/>
<rect x="234.08" y="491.8" width="2.5" height="19" fill="#c0c0c0"/>
<rect x="237.87" y="491.8" width="2.5" height="19" fill="#c0c0c0"/>
<rect x="241.66" y="491.8" width="2.5" height="19" fill="#c0c0c0"/>
<rect x="245.44" y="491.8" width="2.5" height="19" fill="#c0c0c0"/>
<rect x="249.22" y="491.8" width="2.5" height="19" fill="#c0c0c0"/>
<rect x="253.01" y="491.8" width="2.5" height="19" fill="#c0c0c0"/>
<rect x="256.80" y="491.8" width="2.5" height="19" fill="#c0c0c0"/>
<rect x="260.58" y="491.8" width="2.5" height="19" fill="#c0c0c0"/>
<rect x="264.37" y="491.8" width="2.5" height="19" fill="#c0c0c0"/>
<rect x="268.15" y="491.8" width="2.5" height="19" fill="#c0c0c0"/>
<rect x="271.94" y="491.8" width="2.5" height="19" fill="#c0c0c0"/>
<rect x="275.72" y="491.8" width="2.5" height="19" fill="#c0c0c0"/>
<rect x="279.50" y="491.8" width="2.5" height="19" fill="#c0c0c0"/>
<rect x="283.29" y="491.8" width="2.5" height="19" fill="#c0c0c0"/>
<rect x="287.07" y="491.8" width="2.5" height="19" fill="#c0c0c0"/>
<rect x="290.86" y="491.8" width="2.5" height="19" fill="#c0c0c0"/>
<rect x="294.64" y="491.8" width="2.5" height="19" fill="#c0c0c0"/>
<rect x="298.43" y="491.8" width="2.5" height="19" fill="#c0c0c0"/>
<rect x="302.22" y="491.8" width="2.5" height="19" fill="#c0c0c0"/>
<rect x="306.00" y="491.8" width="2.5" height="19" fill="#c0c0c0"/>
<rect x="309.78" y="491.8" width="2.5" height="19" fill="#c0c0c0"/>
<rect x="313.57" y="491.8" width="2.5" height="19" fill="#c0c0c0"/>
<rect x="317.36" y="491.8" width="2.5" height="19" fill="#c0c0c0"/>
<rect x="321.14" y="491.8" width="2.5" height="19" fill="#c0c0c0"/>
<rect x="324.93" y="491.8" width="2.5" height="19" fill="#c0c0c0"/>
<rect x="328.71" y="491.8" width="2.5" height="19" fill="#c0c0c0"/>
<rect x="332.50" y="491.8" width="2.5" height="19" fill="#c0c0c0"/>
<rect x="336.28" y="491.8" width="2.5" height="19" fill="#c0c0c0"/>
<rect x="340.06" y="491.8" width="2.5" height="19" fill="#c0c0c0"/>
<rect x="343.85" y="491.8" width="2.5" height="19" fill="#c0c0c0"/>
<rect x="347.63" y="491.8" width="2.5" height="19" fill="#c0c0c0"/>
<rect x="351.42" y="491.8" width="2.5" height="19" fill="#c0c0c0"/>
<rect x="355.21" y="491.8" width="2.5" height="19" fill="#c0c0c0"/>
<rect x="358.99" y="491.8" width="2.5" height="19" fill="#c0c0c0"/>
<rect x="362.77" y="491.8" width="2.5" height="19" fill="#c0c0c0"/>
<rect x="366.56" y="491.8" width="2.5" height="19" fill="#c0c0c0"/>
<rect x="370.35" y="491.8" width="2.5" height="19" fill="#ff0000"/>
<rect x="374.13" y="491.8" width="2.5" height="19" fill="#ff0000"/>
<rect x="377.91" y="491.8" width="2.5" height="19" fill="#ff0000"/>
<rect x="381.70" y="491.8" width="2.5" height="19" fill="#ff0000"/>
<rect x="385.49" y="491.8" width="2.5" height="19" fill="#ff0000"/>
<rect x="389.27" y="491.8" width="2.5" height="19" fill="#ff0000"/>
<rect x="393.06" y="491.8" width="2.5" height="19" fill="#ff0000"/>
<rect x="396.84" y="491.8" width="2.5" height="19" fill="#ff0000"/>
<rect x="400.62" y="491.8" width="2.5" height="19" fill="#ff0000"/>
<rect x="404.41" y="491.8" width="2.5" height="19" fill="#ff0000"/>
<rect x="408.19" y="491.8" width="2.5" height="19" fill="#ff0000"/>
<rect x="411.98" y="491.8" width="2.5" height="19" fill="#ff0000"/>
<rect x="415.76" y="491.8" width="2.5" height="19" fill="#ff0000"/>
<rect x="419.55" y="491.8" width="2.5" height="19" fill="#ff0000"/>
<rect x="423.34" y="491.8" width="2.5" height="19" fill="#ff0000"/>
<rect x="427.12" y="491.8" width="2.5" height="19" fill="#ff0000"/>
<rect x="430.90" y="491.8" width="2.5" height="19" fill="#ff0000"/>
<rect x="434.69" y="491.8" width="2.5" height="19" fill="#ff0000"/>
<rect x="438.48" y="491.8" width="2.5" height="19" fill="#ff0000"/>
<rect x="442.26" y="491.8" width="2.5" height="19" fill="#ff0000"/>
<rect x="446.04" y="491.8" width="2.5" height="19" fill="#ff0000"/>
<rect x="449.83" y="491.8" width="2.5" height="19" fill="#ff0000"/>
<rect x="453.62" y="491.8" width="2.5" height="19" fill="#ff0000"/>
<rect x="457.40" y="491.8" width="2.5" height="19" fill="#ff0000"/>
<rect x="461.19" y="491.8" width="2.5" height="19" fill="#ff0000"/>
<rect x="464.97" y="491.8" width="2.5" height="19" fill="#ff0000"/>
<rect x="468.75" y="491.8" width="2.5" height="19" fill="#ff0000"/>
<rect x="472.54" y="491.8" width="2.5" height="19" fill="#ff0000"/>
<rect x="476.33" y="491.8" width="2.5" height="19" fill="#ff0000"/>
<rect x="480.11" y="491.8" width="2.5" height="19" fill="#ff0000"/>
<rect x="483.89" y="491.8" width="2.5" height="19" fill="#ff0000"/>
<rect x="487.68" y="491.8" width="2.5" height="19" fill="#ff0000"/>
<rect x="491.47" y="491.8" width="2.5" height="19" fill="#ff0000"/>
<rect x="495.25" y="491.8" width="2.5" height="19" fill="#ff0000"/>
<rect x="499.03" y="491.8" width="2.5" height="19" fill="#ff0000"/>
<rect x="502.82" y="491.8" width="2.5" height="19" fill="#ff0000"/>
<rect x="506.61" y="491.8" width="2.5" height="19" fill="#ff0000"/>
<rect x="510.39" y="491.8" width="2.5" height="19" fill="#ff0000"/>
<rect x="514.17" y="491.8" width="2.5" height="19" fill="#ff0000"/>
<rect x="517.96" y="491.8" width="2.5" height="19" fill="#ff0000"/>
<rect x="521.75" y="491.8" width="2.5" height="19" fill="#ff0000"/>
<rect x="525.53" y="491.8" width="2.5" height="19" fill="#0000ff"/>
<rect x="529.32" y="491.8" width="2.5" height="19" fill="#0000ff"/>
<rect x="533.10" y="491.8" width="2.5" height="19" fill="#0000ff"/>
<rect x="536.88" y="491.8" width="2.5" height="19" fill="#0000ff"/>
<rect x="540.67" y="491.8" width="2.5" height="19" fill="#c0c0c0"/>
<rect x="540.67" y="498.1" width="2.5" height="6.4" fill="#6f8396"/>
<rect x="544.46" y="491.8" width="2.5" height="19" fill="#c0c0c0"/>
<rect x="544.46" y="498.1" width="2.5" height="6.4" fill="#6f8396"/>
<rect x="548.24" y="491.8" width="2.5" height="19" fill="#c0c0c0"/>
<rect x="548.24" y="498.1" width="2.5" height="6.4" fill="#6f8396"/>
<rect x="552.02" y="491.8" width="2.5" height="19" fill="#c0c0c0"/>
<rect x="552.02" y="498.1" width="2.5" height="6.4" fill="#6f8396"/>
<rect x="555.81" y="491.8" width="2.5" height="19" fill="#c0c0c0"/>
<rect x="555.81" y="498.1" width="2.5" height="6.4" fill="#5fd000"/>
<rect x="559.60" y="491.8" width="2.5" height="19" fill="#c0c0c0"/>
<rect x="559.60" y="498.1" width="2.5" height="6.4" fill="#5fd000"/>
<rect x="563.38" y="491.8" width="2.5" height="19" fill="#c0c0c0"/>
<rect x="563.38" y="498.1" width="2.5" height="6.4" fill="#5fd000"/>
<rect x="567.16" y="491.8" width="2.5" height="19" fill="#c0c0c0"/>
<rect x="567.16" y="498.1" width="2.5" height="6.4" fill="#5fd000"/>
<rect x="570.95" y="491.8" width="2.5" height="19" fill="#c0c0c0"/>
<rect x="570.95" y="498.1" width="2.5" height="6.4" fill="#5fd000"/>
<rect x="574.74" y="491.8" width="2.5" height="19" fill="#c0c0c0"/>
<rect x="574.74" y="498.1" width="2.5" height="6.4" fill="#5fd000"/>
<rect x="578.52" y="491.8" width="2.5" height="19" fill="#c0c0c0"/>
<rect x="578.52" y="498.1" width="2.5" height="6.4" fill="#5fd000"/>
<rect x="582.31" y="491.8" width="2.5" height="19" fill="#c0c0c0"/>
<rect x="582.31" y="498.1" width="2.5" height="6.4" fill="#5fd000"/>
<rect x="586.09" y="491.8" width="2.5" height="19" fill="#c0c0c0"/>
<rect x="586.09" y="498.1" width="2.5" height="6.4" fill="#5fd000"/>
<rect x="589.88" y="491.8" width="2.5" height="19" fill="#c0c0c0"/>
<rect x="589.88" y="498.1" width="2.5" height="6.4" fill="#5fd000"/>
<rect x="593.66" y="491.8" width="2.5" height="19" fill="#c0c0c0"/>
<rect x="593.66" y="498.1" width="2.5" height="6.4" fill="#5fd000"/>
<rect x="597.45" y="491.8" width="2.5" height="19" fill="#c0c0c0"/>
<rect x="597.45" y="498.1" width="2.5" height="6.4" fill="#5fd000"/>
<rect x="601.23" y="491.8" width="2.5" height="19" fill="#c0c0c0"/>
<rect x="601.23" y="498.1" width="2.5" height="6.4" fill="#5fd000"/>
<rect x="605.01" y="491.8" width="2.5" height="19" fill="#c0c0c0"/>
<rect x="605.01" y="498.1" width="2.5" height="6.4" fill="#5fd000"/>
<rect x="608.80" y="491.8" width="2.5" height="19" fill="#c0c0c0"/>
<rect x="608.80" y="498.1" width="2.5" height="6.4" fill="#5fd000"/>
<rect x="612.59" y="491.8" width="2.5" height="19" fill="#c0c0c0"/>
<rect x="612.59" y="498.1" width="2.5" height="6.4" fill="#5fd000"/>
<rect x="616.37" y="491.8" width="2.5" height="19" fill="#c0c0c0"/>
<rect x="616.37" y="498.1" width="2.5" height="6.4" fill="#5fd000"/>
<rect x="620.15" y="491.8" width="2.5" height="19" fill="#c0c0c0"/>
<rect x="620.15" y="498.1" width="2.5" height="6.4" fill="#5fd000"/>
<rect x="623.94" y="491.8" width="2.5" height="19" fill="#c0c0c0"/>
<rect x="623.94" y="498.1" width="2.5" height="6.4" fill="#5fd000"/>
<rect x="627.73" y="491.8" width="2.5" height="19" fill="#c0c0c0"/>
<rect x="627.73" y="498.1" width="2.5" height="6.4" fill="#5fd000"/>
<rect x="631.51" y="491.8" width="2.5" height="19" fill="#c0c0c0"/>
<rect x="635.29" y="491.8" width="2.5" height="19" fill="#c0c0c0"/>
<rect x="639.08" y="491.8" width="2.5" height="19" fill="#c0c0c0"/>
<rect x="642.87" y="491.8" width="2.5" height="19" fill="#c0c0c0"/>
<rect x="646.65" y="491.8" width="2.5" height="19" fill="#c0c0c0"/>
<rect x="650.44" y="491.8" width="2.5" height="19" fill="#c0c0c0"/>
<rect x="654.22" y="491.8" width="2.5" height="19" fill="#c0c0c0"/>
<rect x="658.00" y="491.8" width="2.5" height="19" fill="#c0c0c0"/>
<rect x="661.79" y="491.8" width="2.5" height="19" fill="#c0c0c0"/>
<rect x="665.58" y="491.8" width="2.5" height="19" fill="#c0c0c0"/>
<rect x="669.36" y="491.8" width="2.5" height="19" fill="#c0c0c0"/>
<rect x="673.15" y="491.8" width="2.5" height="19" fill="#c0c0c0"/>
<rect x="676.93" y="491.8" width="2.5" height="19" fill="#c0c0c0"/>
<rect x="680.72" y="491.8" width="2.5" height="19" fill="#c0c0c0"/>
<rect x="684.50" y="491.8" width="2.5" height="19" fill="#c0c0c0"/>
<rect x="688.29" y="491.8" width="2.5" height="19" fill="#c0c0c0"/>
<rect x="692.07" y="491.8" width="2.5" height="19" fill="#c0c0c0"/>
<rect x="695.86" y="491.8" width="2.5" height="19" fill="#c0c0c0"/>
<rect x="699.64" y="491.8" width="2.5" height="19" fill="#c0c0c0"/>
<rect x="703.43" y="491.8" width="2.5" height="19" fill="#c0c0c0"/>
<rect x="707.21" y="491.8" width="2.5" height="19" fill="#c0c0c0"/>
<rect x="711.00" y="491.8" width="2.5" height="19" fill="#c0c0c0"/>
<rect x="714.78" y="491.8" width="2.5" height="19" fill="#c0c0c0"/>
<rect x="718.57" y="491.8" width="2.5" height="19" fill="#c0c0c0"/>
<rect x="722.35" y="491.8" width="2.5" height="19" fill="#c0c0c0"/>
<rect x="726.13" y="491.8" width="2.5" height="19" fill="#c0c0c0"/>
<rect x="729.92" y="491.8" width="2.5" height="19" fill="#c0c0c0"/>
<rect x="733.71" y="491.8" width="2.5" height="19" fill="#c0c0c0"/>
<rect x="737.49" y="491.8" width="2.5" height="19" fill="#c0c0c0"/>
<rect x="741.28" y="491.8" width="2.5" height="19" fill="#c0c0c0"/>
<rect x="745.06" y="491.8" width="2.5" height="19" fill="#c0c0c0"/>
<rect x="748.85" y="491.8" width="2.5" height="19" fill="#c0c0c0"/>
<rect x="752.63" y="491.8" width="2.5" height="19" fill="#c0c0c0"/>
<rect x="756.42" y="491.8" width="2.5" height="19" fill="#c0c0c0"/>
<rect x="760.20" y="491.8" width="2.5" height="19" fill="#c0c0c0"/>
<rect x="763.99" y="491.8" width="2.5" height="19" fill="#c0c0c0"/>
<rect x="767.77" y="491.8" width="2.5" height="19" fill="#c0c0c0"/>
<rect x="771.56" y="491.8" width="2.5" height="19" fill="#c0c0c0"/>
<rect x="154.60" y="519.8" width="2.5" height="19" fill="#c0c0c0"/>
<rect x="158.38" y="519.8" width="2.5" height="19" fill="#ff0000"/>
<rect x="162.17" y="519.8" width="2.5" height="19" fill="#c0c0c0"/>
<rect x="165.95" y="519.8" width="2.5" height="19" fill="#c0c0c0"/>
<rect x="169.74" y="519.8" width="2.5" height="19" fill="#c0c0c0"/>
<rect x="173.53" y="519.8" width="2.5" height="19" fill="#c0c0c0"/>
<rect x="177.31" y="519.8" width="2.5" height="19" fill="#c0c0c0"/>
<rect x="181.09" y="519.8" width="2.5" height="19" fill="#c0c0c0"/>
<rect x="184.88" y="519.8" width="2.5" height="19" fill="#c0c0c0"/>
<rect x="188.66" y="519.8" width="2.5" height="19" fill="#c0c0c0"/>
<rect x="192.45" y="519.8" width="2.5" height="19" fill="#c0c0c0"/>
<rect x="196.24" y="519.8" width="2.5" height="19" fill="#c0c0c0"/>
<rect x="200.02" y="519.8" width="2.5" height="19" fill="#c0c0c0"/>
<rect x="203.81" y="519.8" width="2.5" height="19" fill="#c0c0c0"/>
<rect x="207.59" y="519.8" width="2.5" height="19" fill="#c0c0c0"/>
<rect x="211.38" y="519.8" width="2.5" height="19" fill="#c0c0c0"/>
<rect x="215.16" y="519.8" width="2.5" height="19" fill="#c0c0c0"/>
<rect x="218.94" y="519.8" width="2.5" height="19" fill="#c0c0c0"/>
<rect x="222.73" y="519.8" width="2.5" height="19" fill="#c0c0c0"/>
<rect x="226.51" y="519.8" width="2.5" height="19" fill="#c0c0c0"/>
<rect x="230.30" y="519.8" width="2.5" height="19" fill="#c0c0c0"/>
<rect x="234.08" y="519.8" width="2.5" height="19" fill="#c0c0c0"/>
<rect x="237.87" y="519.8" width="2.5" height="19" fill="#c0c0c0"/>
<rect x="241.66" y="519.8" width="2.5" height="19" fill="#c0c0c0"/>
<rect x="245.44" y="519.8" width="2.5" height="19" fill="#c0c0c0"/>
<rect x="249.22" y="519.8" width="2.5" height="19" fill="#c0c0c0"/>
<rect x="253.01" y="519.8" width="2.5" height="19" fill="#c0c0c0"/>
<rect x="256.80" y="519.8" width="2.5" height="19" fill="#c0c0c0"/>
<rect x="260.58" y="519.8" width="2.5" height="19" fill="#c0c0c0"/>
<rect x="264.37" y="519.8" width="2.5" height="19" fill="#c0c0c0"/>
<rect x="268.15" y="519.8" width="2.5" height="19" fill="#c0c0c0"/>
<rect x="271.94" y="519.8" width="2.5" height="19" fill="#c0c0c0"/>
<rect x="275.72" y="519.8" width="2.5" height="19" fill="#c0c0c0"/>
<rect x="279.50" y="519.8" width="2.5" height="19" fill="#c0c0c0"/>
<rect x="283.29" y="519.8" width="2.5" height="19" fill="#c0c0c0"/>
<rect x="287.07" y="519.8" width="2.5" height="19" fill="#c0c0c0"/>
<rect x="290.86" y="519.8" width="2.5" height="19" fill="#c0c0c0"/>
<rect x="294.64" y="519.8" width="2.5" height="19" fill="#c0c0c0"/>
<rect x="298.43" y="519.8" width="2.5" height="19" fill="#c0c0c0"/>
<rect x="302.22" y="519.8" width="2.5" height="19" fill="#c0c0c0"/>
<rect x="306.00" y="519.8" width="2.5" height="19" fill="#c0c0c0"/>
<rect x="309.78" y="519.8" width="2.5" height="19" fill="#c0c0c0"/>
<rect x="313.57" y="519.8" width="2.5" height="19" fill="#c0c0c0"/>
<rect x="317.36" y="519.8" width="2.5" height="19" fill="#c0c0c0"/>
<rect x="321.14" y="519.8" width="2.5" height="19" fill="#c0c0c0"/>
<rect x="324.93" y="519.8" width="2.5" height="19" fill="#c0c0c0"/>
<rect x="328.71" y="519.8" width="2.5" height="19" fill="#c0c0c0"/>
<rect x="332.50" y="519.8" width="2.5" height="19" fill="#c0c0c0"/>
<rect x="336.28" y="519.8" width="2.5" height="19" fill="#c0c0c0"/>
<rect x="340.06" y="519.8" width="2.5" height="19" fill="#c0c0c0"/>
<rect x="343.85" y="519.8" width="2.5" height="19" fill="#c0c0c0"/>
<rect x="347.63" y="519.8" width="2.5" height="19" fill="#c0c0c0"/>
<rect x="351.42" y="519.8" width="2.5" height="19" fill="#c0c0c0"/>
<rect x="355.21" y="519.8" width="2.5" height="19" fill="#c0c0c0"/>
<rect x="358.99" y="519.8" width="2.5" height="19" fill="#c0c0c0"/>
<rect x="362.77" y="519.8" width="2.5" height="19" fill="#c0c0c0"/>
<rect x="366.56" y="519.8" width="2.5" height="19" fill="#c0c0c0"/>
<rect x="370.35" y="519.8" width="2.5" height="19" fill="#c0c0c0"/>
<rect x="374.13" y="519.8" width="2.5" height="19" fill="#c0c0c0"/>
<rect x="377.91" y="519.8" width="2.5" height="19" fill="#c0c0c0"/>
<rect x="381.70" y="519.8" width="2.5" height="19" fill="#c0c0c0"/>
<rect x="385.49" y="519.8" width="2.5" height="19" fill="#c0c0c0"/>
<rect x="389.27" y="519.8" width="2.5" height="19" fill="#c0c0c0"/>
<rect x="393.06" y="519.8" width="2.5" height="19" fill="#c0c0c0"/>
<rect x="396.84" y="519.8" width="2.5" height="19" fill="#c0c0c0"/>
<rect x="400.62" y="519.8" width="2.5" height="19" fill="#c0c0c0"/>
<rect x="404.41" y="519.8" width="2.5" height="19" fill="#c0c0c0"/>
<rect x="408.19" y="519.8" width="2.5" height="19" fill="#c0c0c0"/>
<rect x="411.98" y="519.8" width="2.5" height="19" fill="#c0c0c0"/>
<rect x="415.76" y="519.8" width="2.5" height="19" fill="#c0c0c0"/>
<rect x="419.55" y="519.8" width="2.5" height="19" fill="#c0c0c0"/>
<rect x="423.34" y="519.8" width="2.5" height="19" fill="#c0c0c0"/>
<rect x="427.12" y="519.8" width="2.5" height="19" fill="#c0c0c0"/>
<rect x="430.90" y="519.8" width="2.5" height="19" fill="#c0c0c0"/>
<rect x="434.69" y="519.8" width="2.5" height="19" fill="#c0c0c0"/>
<rect x="438.48" y="519.8" width="2.5" height="19" fill="#c0c0c0"/>
<rect x="442.26" y="519.8" width="2.5" height="19" fill="#c0c0c0"/>
<rect x="446.04" y="519.8" width="2.5" height="19" fill="#c0c0c0"/>
<rect x="449.83" y="519.8" width="2.5" height="19" fill="#c0c0c0"/>
<rect x="453.62" y="519.8" width="2.5" height="19" fill="#c0c0c0"/>
<rect x="457.40" y="519.8" width="2.5" height="19" fill="#c0c0c0"/>
<rect x="461.19" y="519.8" width="2.5" height="19" fill="#c0c0c0"/>
<rect x="464.97" y="519.8" width="2.5" height="19" fill="#c0c0c0"/>
<rect x="468.75" y="519.8" width="2.5" height="19" fill="#c0c0c0"/>
<rect x="472.54" y="519.8" width="2.5" height="19" fill="#c0c0c0"/>
<rect x="476.33" y="519.8" width="2.5" height="19" fill="#c0c0c0"/>
<rect x="480.11" y="519.8" width="2.5" height="19" fill="#c0c0c0"/>
<rect x="483.89" y="519.8" width="2.5" height="19" fill="#c0c0c0"/>
<rect x="487.68" y="519.8" width="2.5" height="19" fill="#c0c0c0"/>
<rect x="491.47" y="519.8" width="2.5" height="19" fill="#c0c0c0"/>
<rect x="495.25" y="519.8" width="2.5" height="19" fill="#c0c0c0"/>
<rect x="499.03" y="519.8" width="2.5" height="19" fill="#c0c0c0"/>
<rect x="502.82" y="519.8" width="2.5" height="19" fill="#c0c0c0"/>
<rect x="506.61" y="519.8" width="2.5" height="19" fill="#c0c0c0"/>
<rect x="510.39" y="519.8" width="2.5" height="19" fill="#c0c0c0"/>
<rect x="514.17" y="519.8" width="2.5" height="19" fill="#c0c0c0"/>
<rect x="517.96" y="519.8" width="2.5" height="19" fill="#c0c0c0"/>
<rect x="521.75" y="519.8" width="2.5" height="19" fill="#c0c0c0"/>
<rect x="525.53" y="519.8" width="2.5" height="19" fill="#c0c0c0"/>
<rect x="529.32" y="519.8" width="2.5" height="19" fill="#c0c0c0"/>
<rect x="533.10" y="519.8" width="2.5" height="19" fill="#c0c0c0"/>
<rect x="536.88" y="519.8" width="2.5" height="19" fill="#c0c0c0"/>
<rect x="540.67" y="519.8" width="2.5" height="19" fill="#c0c0c0"/>
<rect x="544.46" y="519.8" width="2.5" height="19" fill="#c0c0c0"/>
<rect x="548.24" y="519.8" width="2.5" height="19" fill="#c0c0c0"/>
<rect x="552.02" y="519.8" width="2.5" height="19" fill="#c0c0c0"/>
<rect x="555.81" y="519.8" width="2.5" height="19" fill="#c0c0c0"/>
<rect x="559.60" y="519.8" width="2.5" height="19" fill="#c0c0c0"/>
<rect x="563.38" y="519.8" width="2.5" height="19" fill="#c0c0c0"/>
<rect x="567.16" y="519.8" width="2.5" height="19" fill="#c0c0c0"/>
<rect x="570.95" y="519.8" width="2.5" height="19" fill="#c0c0c0"/>
<rect x="574.74" y="519.8" width="2.5" height="19" fill="#c0c0c0"/>
<rect x="578.52" y="519.8" width="2.5" height="19" fill="#c0c0c0"/>
<rect x="582.31" y="519.8" width="2.5" height="19" fill="#c0c0c0"/>
<rect x="586.09" y="519.8" width="2.5" height="19" fill="#c0c0c0"/>
<rect x="589.88" y="519.8" width="2.5" height="19" fill="#c0c0c0"/>
<rect x="593.66" y="519.8" width="2.5" height="19" fill="#c0c0c0"/>
<rect x="597.45" y="519.8" width="2.5" height="19" fill="#c0c0c0"/>
<rect x="601.23" y="519.8" width="2.5" height="19" fill="#c0c0c0"/>
<rect x="605.01" y="519.8" width="2.5" height="19" fill="#c0c0c0"/>
<rect x="608.80" y="519.8" width="2.5" height="19" fill="#c0c0c0"/>
<rect x="612.59" y="519.8" width="2.5" height="19" fill="#c0c0c0"/>
<rect x="616.37" y="519.8" width="2.5" height="19" fill="#c0c0c0"/>
<rect x="620.15" y="519.8" width="2.5" height="19" fill="#c0c0c0"/>
<rect x="623.94" y="519.8" width="2.5" height="19" fill="#c0c0c0"/>
<rect x="627.73" y="519.8" width="2.5" height="19" fill="#c0c0c0"/>
<rect x="631.51" y="519.8" width="2.5" height="19" fill="#ff0000"/>
<rect x="635.29" y="519.8" width="2.5" height="19" fill="#ff0000"/>
<rect x="639.08" y="519.8" width="2.5" height="19" fill="#ff0000"/>
<rect x="642.87" y="519.8" width="2.5" height="19" fill="#ff0000"/>
<rect x="646.65" y="519.8" width="2.5" height="19" fill="#ff0000"/>
<rect x="650.44" y="519.8" width="2.5" height="19" fill="#ff0000"/>
<rect x="654.22" y="519.8" width="2.5" height="19" fill="#0000ff"/>
<rect x="658.00" y="519.8" width="2.5" height="19" fill="#0000ff"/>
<rect x="661.79" y="519.8" width="2.5" height="19" fill="#0000ff"/>
<rect x="665.58" y="519.8" width="2.5" height="19" fill="#0000ff"/>
<rect x="669.36" y="519.8" width="2.5" height="19" fill="#c0c0c0"/>
<rect x="669.36" y="526.1" width="2.5" height="6.4" fill="#6f8396"/>
<rect x="673.15" y="519.8" width="2.5" height="19" fill="#c0c0c0"/>
<rect x="673.15" y="526.1" width="2.5" height="6.4" fill="#6f8396"/>
<rect x="676.93" y="519.8" width="2.5" height="19" fill="#c0c0c0"/>
<rect x="676.93" y="526.1" width="2.5" height="6.4" fill="#6f8396"/>
<rect x="680.72" y="519.8" width="2.5" height="19" fill="#c0c0c0"/>
<rect x="680.72" y="526.1" width="2.5" height="6.4" fill="#5fd000"/>
<rect x="684.50" y="519.8" width="2.5" height="19" fill="#c0c0c0"/>
<rect x="684.50" y="526.1" width="2.5" height="6.4" fill="#5fd000"/>
<rect x="688.29" y="519.8" width="2.5" height="19" fill="#c0c0c0"/>
<rect x="688.29" y="526.1" width="2.5" height="6.4" fill="#5fd000"/>
<rect x="692.07" y="519.8" width="2.5" height="19" fill="#c0c0c0"/>
<rect x="692.07" y="526.1" width="2.5" height="6.4" fill="#5fd000"/>
<rect x="695.86" y="519.8" width="2.5" height="19" fill="#c0c0c0"/>
<rect x="695.86" y="526.1" width="2.5" height="6.4" fill="#5fd000"/>
<rect x="699.64" y="519.8" width="2.5" height="19" fill="#c0c0c0"/>
<rect x="699.64" y="526.1" width="2.5" height="6.4" fill="#5fd000"/>
<rect x="703.43" y="519.8" width="2.5" height="19" fill="#c0c0c0"/>
<rect x="703.43" y="526.1" width="2.5" height="6.4" fill="#5fd000"/>
<rect x="707.21" y="519.8" width="2.5" height="19" fill="#c0c0c0"/>
<rect x="707.21" y="526.1" width="2.5" height="6.4" fill="#5fd000"/>
<rect x="711.00" y="519.8" width="2.5" height="19" fill="#c0c0c0"/>
<rect x="711.00" y="526.1" width="2.5" height="6.4" fill="#5fd000"/>
<rect x="714.78" y="519.8" width="2.5" height="19" fill="#c0c0c0"/>
<rect x="714.78" y="526.1" width="2.5" height="6.4" fill="#5fd000"/>
<rect x="718.57" y="519.8" width="2.5" height="19" fill="#c0c0c0"/>
<rect x="718.57" y="526.1" width="2.5" height="6.4" fill="#5fd000"/>
<rect x="722.35" y="519.8" width="2.5" height="19" fill="#c0c0c0"/>
<rect x="722.35" y="526.1" width="2.5" height="6.4" fill="#5fd000"/>
<rect x="726.13" y="519.8" width="2.5" height="19" fill="#c0c0c0"/>
<rect x="726.13" y="526.1" width="2.5" height="6.4" fill="#5fd000"/>
<rect x="729.92" y="519.8" width="2.5" height="19" fill="#c0c0c0"/>
<rect x="729.92" y="526.1" width="2.5" height="6.4" fill="#5fd000"/>
<rect x="733.71" y="519.8" width="2.5" height="19" fill="#c0c0c0"/>
<rect x="733.71" y="526.1" width="2.5" height="6.4" fill="#5fd000"/>
<rect x="737.49" y="519.8" width="2.5" height="19" fill="#c0c0c0"/>
<rect x="737.49" y="526.1" width="2.5" height="6.4" fill="#5fd000"/>
<rect x="741.28" y="519.8" width="2.5" height="19" fill="#c0c0c0"/>
<rect x="741.28" y="526.1" width="2.5" height="6.4" fill="#5fd000"/>
<rect x="745.06" y="519.8" width="2.5" height="19" fill="#c0c0c0"/>
<rect x="745.06" y="526.1" width="2.5" height="6.4" fill="#5fd000"/>
<rect x="748.85" y="519.8" width="2.5" height="19" fill="#c0c0c0"/>
<rect x="748.85" y="526.1" width="2.5" height="6.4" fill="#5fd000"/>
<rect x="752.63" y="519.8" width="2.5" height="19" fill="#c0c0c0"/>
<rect x="752.63" y="526.1" width="2.5" height="6.4" fill="#5fd000"/>
<rect x="756.42" y="519.8" width="2.5" height="19" fill="#c0c0c0"/>
<rect x="756.42" y="526.1" width="2.5" height="6.4" fill="#5fd000"/>
<rect x="760.20" y="519.8" width="2.5" height="19" fill="#c0c0c0"/>
<rect x="760.20" y="526.1" width="2.5" height="6.4" fill="#5fd000"/>
<rect x="763.99" y="519.8" width="2.5" height="19" fill="#c0c0c0"/>
<rect x="763.99" y="526.1" width="2.5" height="6.4" fill="#5fd000"/>
<rect x="767.77" y="519.8" width="2.5" height="19" fill="#c0c0c0"/>
<rect x="767.77" y="526.1" width="2.5" height="6.4" fill="#5fd000"/>
<rect x="771.56" y="519.8" width="2.5" height="19" fill="#c0c0c0"/>
<text x="24.5" y="358" font-size="12.3" font-weight="bold" fill="#111" textLength="80" lengthAdjust="spacingAndGlyphs">Study of origin</text>
<text x="24.5" y="386" font-size="12.3" font-weight="bold" fill="#111" textLength="120" lengthAdjust="spacingAndGlyphs"># Samples per Patient</text>
<text x="26" y="407" font-size="12.3" font-weight="bold" fill="#111" textLength="92" lengthAdjust="spacingAndGlyphs">Profiled for copy</text>
<text x="26" y="419.7" font-size="12.3" font-weight="bold" fill="#111" textLength="108" lengthAdjust="spacingAndGlyphs">Number alterations</text>
<text x="25.5" y="440" font-size="12.3" font-weight="bold" fill="#111" textLength="121" lengthAdjust="spacingAndGlyphs">Profiled for mutations</text>
<text x="23.6" y="475.8" font-size="12" font-weight="bold" fill="#111" textLength="44.5" lengthAdjust="spacingAndGlyphs">FERMT1</text>
<text x="23.6" y="504.2" font-size="12" font-weight="bold" fill="#111" textLength="44.5" lengthAdjust="spacingAndGlyphs">FERMT2</text>
<text x="23.6" y="533" font-size="12" font-weight="bold" fill="#111" textLength="44.5" lengthAdjust="spacingAndGlyphs">FERMT3</text>
<text x="119.4" y="477.7" font-size="9.9" font-weight="bold" fill="#111" textLength="18.2" lengthAdjust="spacingAndGlyphs">2%*</text>
<text x="119.4" y="505.4" font-size="9.9" font-weight="bold" fill="#111" textLength="26.5" lengthAdjust="spacingAndGlyphs">2.5%*</text>
<text x="119.8" y="533.3" font-size="9.9" font-weight="bold" fill="#111" textLength="26" lengthAdjust="spacingAndGlyphs">1.4%*</text>
<text x="25.5" y="564.9" font-size="12.3" font-weight="bold" fill="#111" textLength="101" lengthAdjust="spacingAndGlyphs">Genetic Alteration</text>
<text x="23.6" y="609.8" font-size="12.3" font-weight="bold" fill="#111" textLength="80.4" lengthAdjust="spacingAndGlyphs">Study of origin</text>
<rect x="155.1" y="555.3" width="4.6" height="14.4" fill="#c0c0c0"/>
<rect x="155.1" y="560.1999999999999" width="4.6" height="5" fill="#5fd000"/>
<text x="163.7" y="566.1" font-size="8.2" fill="#2b2b2b" textLength="169.2" lengthAdjust="spacingAndGlyphs">Missense Mutation (unknown significance)</text>
<rect x="348.4" y="555.3" width="4.6" height="14.4" fill="#c0c0c0"/>
<rect x="348.4" y="560.1999999999999" width="4.6" height="5" fill="#6f8396"/>
<text x="357.3" y="566.1" font-size="8.2" fill="#2b2b2b" textLength="173.9" lengthAdjust="spacingAndGlyphs">Truncating Mutation (unknown significance)</text>
<rect x="546.3" y="555.3" width="4.6" height="14.4" fill="#ff0000"/>
<text x="554.9" y="566.1" font-size="8.2" fill="#2b2b2b" textLength="51.1" lengthAdjust="spacingAndGlyphs">Amplification</text>
<rect x="621.5" y="555.3" width="4.6" height="14.4" fill="#0000ff"/>
<text x="630" y="566.1" font-size="8.2" fill="#2b2b2b" textLength="56.9" lengthAdjust="spacingAndGlyphs">Deep Deletion</text>
<rect x="702.5" y="555.3" width="4.6" height="14.4" fill="#c0c0c0"/>
<text x="711.2" y="566.1" font-size="8.2" fill="#2b2b2b" textLength="55.1" lengthAdjust="spacingAndGlyphs">No alterations</text>
<rect x="155.1" y="585.1" width="4.6" height="0.9" fill="#bdbdbd"/>
<text x="163.7" y="589.1" font-size="8.2" fill="#2b2b2b" textLength="45.3" lengthAdjust="spacingAndGlyphs">Not profiled</text>
<rect x="155.1" y="601.2" width="4.6" height="13.5" fill="#dc3912"/>
<text x="163.7" y="611.0500000000001" font-size="8.2" fill="#2b2b2b" textLength="167.9" lengthAdjust="spacingAndGlyphs">Lung Adenocarcinoma (Broad, Cell 2012)</text>
<rect x="346.8" y="601.2" width="4.6" height="13.5" fill="#3366cc"/>
<text x="355.8" y="611.0500000000001" font-size="8.2" fill="#2b2b2b" textLength="192.5" lengthAdjust="spacingAndGlyphs">Lung Adenocarcinoma (MSKCC, Science 2015)</text>
<rect x="564.2" y="601.2" width="4.6" height="13.5" fill="#ff9900"/>
<text x="572.4" y="611.0500000000001" font-size="8.2" fill="#2b2b2b" textLength="197.0" lengthAdjust="spacingAndGlyphs">Lung Adenocarcinoma (TCGA, Firehose Legacy)</text>
<rect x="155.1" y="621.55" width="4.6" height="13.5" fill="#990099"/>
<text x="163.7" y="631.4" font-size="8.2" fill="#2b2b2b" textLength="180.2" lengthAdjust="spacingAndGlyphs">Lung Adenocarcinoma (TCGA, Nature 2014)</text>
<rect x="359.1" y="621.55" width="4.6" height="13.5" fill="#109618"/>
<text x="368" y="631.4" font-size="8.2" fill="#2b2b2b" textLength="198.5" lengthAdjust="spacingAndGlyphs">Lung Adenocarcinoma (TCGA, PanCancer Atlas)</text>
<rect x="581.6" y="621.55" width="4.6" height="13.5" fill="#0099c6"/>
<text x="590.4" y="631.4" font-size="8.2" fill="#2b2b2b" textLength="171.5" lengthAdjust="spacingAndGlyphs">Lung Adenocarcinoma (TSP, Nature 2008)</text>
<rect x="155.1" y="642.45" width="4.6" height="13.5" fill="#66aa00"/>
<text x="163.7" y="652.3000000000001" font-size="8.2" fill="#2b2b2b" textLength="237.0" lengthAdjust="spacingAndGlyphs">Lung Squamous Cell Carcinoma (TCGA, Firehose Legacy)</text>
<rect x="416.6" y="642.45" width="4.6" height="13.5" fill="#316395"/>
<text x="425.7" y="652.3000000000001" font-size="8.2" fill="#2b2b2b" textLength="219.7" lengthAdjust="spacingAndGlyphs">Lung Squamous Cell Carcinoma (TCGA, Nature 2012)</text>
<rect x="155.1" y="662.85" width="4.6" height="13.5" fill="#b82e2e"/>
<text x="163.7" y="672.7" font-size="8.2" fill="#2b2b2b" textLength="238.4" lengthAdjust="spacingAndGlyphs">Lung Squamous Cell Carcinoma (TCGA, PanCancer Atlas)</text>
<rect x="418.1" y="662.85" width="4.6" height="13.5" fill="#dd4477"/>
<text x="426.8" y="672.7" font-size="8.2" fill="#2b2b2b" textLength="220.3" lengthAdjust="spacingAndGlyphs">Non-Small Cell Cancer (MSKCC, Cancer Discov 2017)</text>
<rect x="155.1" y="683.65" width="4.6" height="13.5" fill="#994499"/>
<text x="163.7" y="693.5" font-size="8.2" fill="#2b2b2b" textLength="219.2" lengthAdjust="spacingAndGlyphs">Non-Small Cell Lung Cancer (TRACERx, NEJM 2017)</text>
</g>
</svg>
</body></html>
